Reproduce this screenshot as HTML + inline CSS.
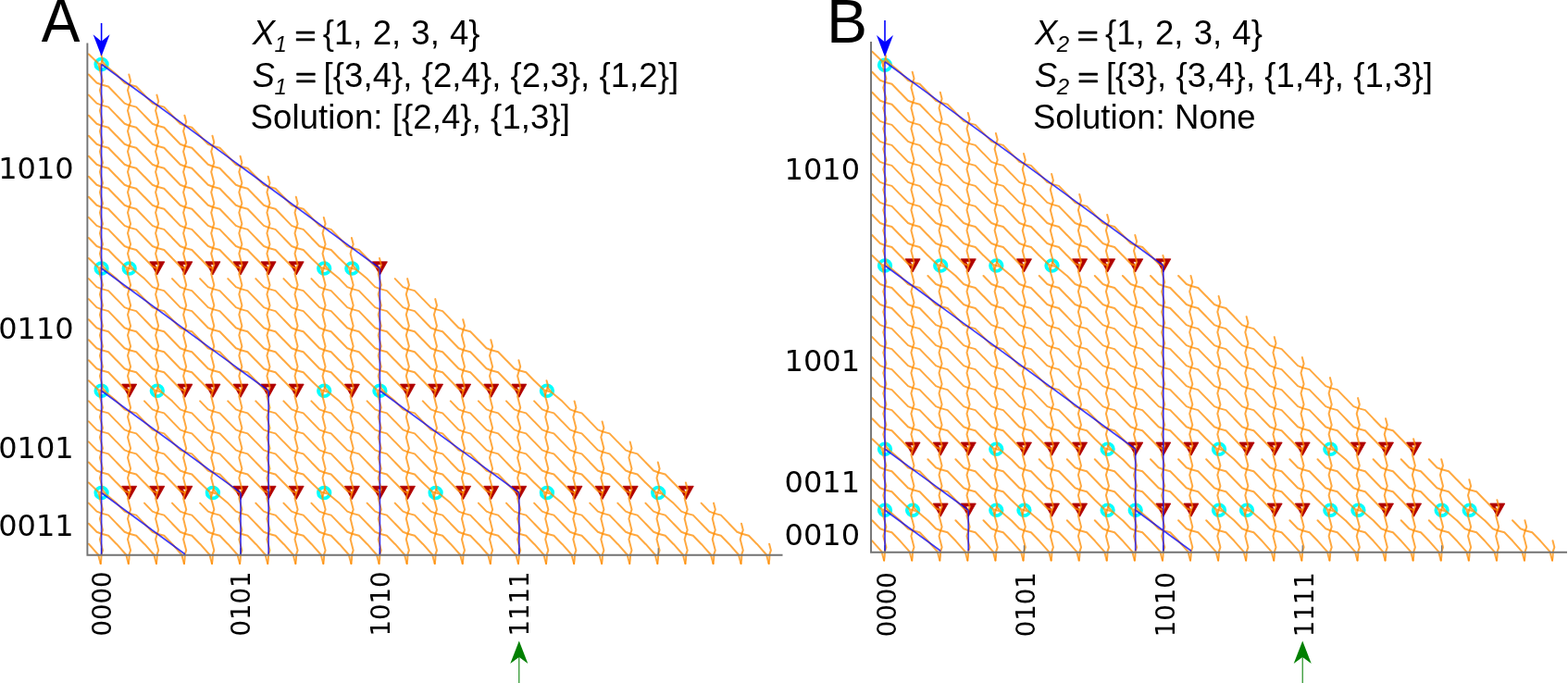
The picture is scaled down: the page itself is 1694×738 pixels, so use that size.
<!DOCTYPE html>
<html><head><meta charset="utf-8"><title>Exact cover networks</title>
<style>html,body{margin:0;padding:0;background:#fff;overflow:hidden}svg{display:block}</style>
</head><body>
<svg width="1694" height="738" viewBox="0 0 1694 738">
<rect width="1694" height="738" fill="#fff"/>
<ellipse cx="109.6" cy="69.5" rx="6.25" ry="5.85" fill="none" stroke="#00ffff" stroke-width="3.8"/>
<ellipse cx="109.6" cy="290" rx="6.25" ry="5.85" fill="none" stroke="#00ffff" stroke-width="3.8"/>
<ellipse cx="139.7" cy="290" rx="6.25" ry="5.85" fill="none" stroke="#00ffff" stroke-width="3.8"/>
<path d="M161.7 282.8 L177.8 282.8 L169.8 297.1ZM169.8 290.6 L172.5 285.7 L167 285.7Z" fill="#b00000" stroke="#b00000" stroke-width="0.8" stroke-linejoin="round"/>
<path d="M191.8 282.8 L207.9 282.8 L199.8 297.1ZM199.8 290.6 L202.6 285.7 L197.1 285.7Z" fill="#b00000" stroke="#b00000" stroke-width="0.8" stroke-linejoin="round"/>
<path d="M221.9 282.8 L238 282.8 L229.9 297.1ZM229.9 290.6 L232.7 285.7 L227.2 285.7Z" fill="#b00000" stroke="#b00000" stroke-width="0.8" stroke-linejoin="round"/>
<path d="M251.9 282.8 L268.1 282.8 L260 297.1ZM260 290.6 L262.7 285.7 L257.3 285.7Z" fill="#b00000" stroke="#b00000" stroke-width="0.8" stroke-linejoin="round"/>
<path d="M282 282.8 L298.1 282.8 L290.1 297.1ZM290.1 290.6 L292.8 285.7 L287.3 285.7Z" fill="#b00000" stroke="#b00000" stroke-width="0.8" stroke-linejoin="round"/>
<path d="M312.1 282.8 L328.2 282.8 L320.2 297.1ZM320.2 290.6 L322.9 285.7 L317.4 285.7Z" fill="#b00000" stroke="#b00000" stroke-width="0.8" stroke-linejoin="round"/>
<ellipse cx="350.2" cy="290" rx="6.25" ry="5.85" fill="none" stroke="#00ffff" stroke-width="3.8"/>
<ellipse cx="380.3" cy="290" rx="6.25" ry="5.85" fill="none" stroke="#00ffff" stroke-width="3.8"/>
<path d="M402.3 282.8 L418.4 282.8 L410.4 297.1ZM410.4 290.6 L413.1 285.7 L407.7 285.7Z" fill="#b00000" stroke="#b00000" stroke-width="0.8" stroke-linejoin="round"/>
<ellipse cx="109.6" cy="422.3" rx="6.25" ry="5.85" fill="none" stroke="#00ffff" stroke-width="3.8"/>
<path d="M131.6 415.1 L147.7 415.1 L139.7 429.4ZM139.7 422.9 L142.4 418 L136.9 418Z" fill="#b00000" stroke="#b00000" stroke-width="0.8" stroke-linejoin="round"/>
<ellipse cx="169.8" cy="422.3" rx="6.25" ry="5.85" fill="none" stroke="#00ffff" stroke-width="3.8"/>
<path d="M191.8 415.1 L207.9 415.1 L199.8 429.4ZM199.8 422.9 L202.6 418 L197.1 418Z" fill="#b00000" stroke="#b00000" stroke-width="0.8" stroke-linejoin="round"/>
<path d="M221.9 415.1 L238 415.1 L229.9 429.4ZM229.9 422.9 L232.7 418 L227.2 418Z" fill="#b00000" stroke="#b00000" stroke-width="0.8" stroke-linejoin="round"/>
<path d="M251.9 415.1 L268.1 415.1 L260 429.4ZM260 422.9 L262.7 418 L257.3 418Z" fill="#b00000" stroke="#b00000" stroke-width="0.8" stroke-linejoin="round"/>
<path d="M282 415.1 L298.1 415.1 L290.1 429.4ZM290.1 422.9 L292.8 418 L287.3 418Z" fill="#b00000" stroke="#b00000" stroke-width="0.8" stroke-linejoin="round"/>
<path d="M312.1 415.1 L328.2 415.1 L320.2 429.4ZM320.2 422.9 L322.9 418 L317.4 418Z" fill="#b00000" stroke="#b00000" stroke-width="0.8" stroke-linejoin="round"/>
<ellipse cx="350.2" cy="422.3" rx="6.25" ry="5.85" fill="none" stroke="#00ffff" stroke-width="3.8"/>
<path d="M372.3 415.1 L388.4 415.1 L380.3 429.4ZM380.3 422.9 L383.1 418 L377.6 418Z" fill="#b00000" stroke="#b00000" stroke-width="0.8" stroke-linejoin="round"/>
<ellipse cx="410.4" cy="422.3" rx="6.25" ry="5.85" fill="none" stroke="#00ffff" stroke-width="3.8"/>
<path d="M432.4 415.1 L448.5 415.1 L440.5 429.4ZM440.5 422.9 L443.2 418 L437.7 418Z" fill="#b00000" stroke="#b00000" stroke-width="0.8" stroke-linejoin="round"/>
<path d="M462.5 415.1 L478.6 415.1 L470.6 429.4ZM470.6 422.9 L473.3 418 L467.8 418Z" fill="#b00000" stroke="#b00000" stroke-width="0.8" stroke-linejoin="round"/>
<path d="M492.6 415.1 L508.7 415.1 L500.6 429.4ZM500.6 422.9 L503.4 418 L497.9 418Z" fill="#b00000" stroke="#b00000" stroke-width="0.8" stroke-linejoin="round"/>
<path d="M522.7 415.1 L538.8 415.1 L530.7 429.4ZM530.7 422.9 L533.5 418 L528 418Z" fill="#b00000" stroke="#b00000" stroke-width="0.8" stroke-linejoin="round"/>
<path d="M552.8 415.1 L568.8 415.1 L560.8 429.4ZM560.8 422.9 L563.5 418 L558.1 418Z" fill="#b00000" stroke="#b00000" stroke-width="0.8" stroke-linejoin="round"/>
<ellipse cx="590.9" cy="422.3" rx="6.25" ry="5.85" fill="none" stroke="#00ffff" stroke-width="3.8"/>
<ellipse cx="109.6" cy="532.5" rx="6.25" ry="5.85" fill="none" stroke="#00ffff" stroke-width="3.8"/>
<path d="M131.6 525.3 L147.7 525.3 L139.7 539.6ZM139.7 533.1 L142.4 528.3 L136.9 528.3Z" fill="#b00000" stroke="#b00000" stroke-width="0.8" stroke-linejoin="round"/>
<path d="M161.7 525.3 L177.8 525.3 L169.8 539.6ZM169.8 533.1 L172.5 528.3 L167 528.3Z" fill="#b00000" stroke="#b00000" stroke-width="0.8" stroke-linejoin="round"/>
<path d="M191.8 525.3 L207.9 525.3 L199.8 539.6ZM199.8 533.1 L202.6 528.3 L197.1 528.3Z" fill="#b00000" stroke="#b00000" stroke-width="0.8" stroke-linejoin="round"/>
<ellipse cx="229.9" cy="532.5" rx="6.25" ry="5.85" fill="none" stroke="#00ffff" stroke-width="3.8"/>
<path d="M251.9 525.3 L268.1 525.3 L260 539.6ZM260 533.1 L262.7 528.3 L257.3 528.3Z" fill="#b00000" stroke="#b00000" stroke-width="0.8" stroke-linejoin="round"/>
<path d="M282 525.3 L298.1 525.3 L290.1 539.6ZM290.1 533.1 L292.8 528.3 L287.3 528.3Z" fill="#b00000" stroke="#b00000" stroke-width="0.8" stroke-linejoin="round"/>
<path d="M312.1 525.3 L328.2 525.3 L320.2 539.6ZM320.2 533.1 L322.9 528.3 L317.4 528.3Z" fill="#b00000" stroke="#b00000" stroke-width="0.8" stroke-linejoin="round"/>
<ellipse cx="350.2" cy="532.5" rx="6.25" ry="5.85" fill="none" stroke="#00ffff" stroke-width="3.8"/>
<path d="M372.3 525.3 L388.4 525.3 L380.3 539.6ZM380.3 533.1 L383.1 528.3 L377.6 528.3Z" fill="#b00000" stroke="#b00000" stroke-width="0.8" stroke-linejoin="round"/>
<path d="M402.3 525.3 L418.4 525.3 L410.4 539.6ZM410.4 533.1 L413.1 528.3 L407.7 528.3Z" fill="#b00000" stroke="#b00000" stroke-width="0.8" stroke-linejoin="round"/>
<path d="M432.4 525.3 L448.5 525.3 L440.5 539.6ZM440.5 533.1 L443.2 528.3 L437.7 528.3Z" fill="#b00000" stroke="#b00000" stroke-width="0.8" stroke-linejoin="round"/>
<ellipse cx="470.6" cy="532.5" rx="6.25" ry="5.85" fill="none" stroke="#00ffff" stroke-width="3.8"/>
<path d="M492.6 525.3 L508.7 525.3 L500.6 539.6ZM500.6 533.1 L503.4 528.3 L497.9 528.3Z" fill="#b00000" stroke="#b00000" stroke-width="0.8" stroke-linejoin="round"/>
<path d="M522.7 525.3 L538.8 525.3 L530.7 539.6ZM530.7 533.1 L533.5 528.3 L528 528.3Z" fill="#b00000" stroke="#b00000" stroke-width="0.8" stroke-linejoin="round"/>
<path d="M552.8 525.3 L568.8 525.3 L560.8 539.6ZM560.8 533.1 L563.5 528.3 L558.1 528.3Z" fill="#b00000" stroke="#b00000" stroke-width="0.8" stroke-linejoin="round"/>
<ellipse cx="590.9" cy="532.5" rx="6.25" ry="5.85" fill="none" stroke="#00ffff" stroke-width="3.8"/>
<path d="M612.9 525.3 L629 525.3 L621 539.6ZM621 533.1 L623.7 528.3 L618.2 528.3Z" fill="#b00000" stroke="#b00000" stroke-width="0.8" stroke-linejoin="round"/>
<path d="M643 525.3 L659.1 525.3 L651 539.6ZM651 533.1 L653.8 528.3 L648.3 528.3Z" fill="#b00000" stroke="#b00000" stroke-width="0.8" stroke-linejoin="round"/>
<path d="M673.1 525.3 L689.2 525.3 L681.1 539.6ZM681.1 533.1 L683.9 528.3 L678.4 528.3Z" fill="#b00000" stroke="#b00000" stroke-width="0.8" stroke-linejoin="round"/>
<ellipse cx="711.2" cy="532.5" rx="6.25" ry="5.85" fill="none" stroke="#00ffff" stroke-width="3.8"/>
<path d="M733.2 525.3 L749.3 525.3 L741.3 539.6ZM741.3 533.1 L744 528.3 L738.5 528.3Z" fill="#b00000" stroke="#b00000" stroke-width="0.8" stroke-linejoin="round"/>
<path d="M109.2 58.5 110.8 64 110.2 65.9 107.8 74 108 76.5 109.2 80.5 M109.2 80.5 111 87.5 109.6 91.5 M109.6 91.5 107.9 97.5 109.2 102.5 M139.3 80.5 141.1 87.5 139.7 91.5 M139.7 91.5 138 97.5 139.3 102.5 M109.2 102.6 111 109.6 109.6 113.6 M109.6 113.6 107.9 119.6 109.2 124.6 M139.3 102.6 141.1 109.6 139.7 113.6 M139.7 113.6 138 119.6 139.3 124.6 M169.4 102.6 171.2 109.6 169.8 113.6 M169.8 113.6 168.1 119.6 169.4 124.6 M109.2 124.7 111 131.7 109.6 135.7 M109.6 135.7 107.9 141.7 109.2 146.7 M139.3 124.7 141.1 131.7 139.7 135.7 M139.7 135.7 138 141.7 139.3 146.7 M169.4 124.7 171.2 131.7 169.8 135.7 M169.8 135.7 168.1 141.7 169.4 146.7 M199.4 124.7 201.2 131.7 199.8 135.7 M199.8 135.7 198.1 141.7 199.4 146.7 M109.2 146.7 111 153.7 109.6 157.7 M109.6 157.7 107.9 163.7 109.2 168.7 M139.3 146.7 141.1 153.7 139.7 157.7 M139.7 157.7 138 163.7 139.3 168.7 M169.4 146.7 171.2 153.7 169.8 157.7 M169.8 157.7 168.1 163.7 169.4 168.7 M199.4 146.7 201.2 153.7 199.8 157.7 M199.8 157.7 198.1 163.7 199.4 168.7 M229.5 146.7 231.3 153.7 229.9 157.7 M229.9 157.7 228.2 163.7 229.5 168.7 M109.2 168.8 111 175.8 109.6 179.8 M109.6 179.8 107.9 185.8 109.2 190.8 M139.3 168.8 141.1 175.8 139.7 179.8 M139.7 179.8 138 185.8 139.3 190.8 M169.4 168.8 171.2 175.8 169.8 179.8 M169.8 179.8 168.1 185.8 169.4 190.8 M199.4 168.8 201.2 175.8 199.8 179.8 M199.8 179.8 198.1 185.8 199.4 190.8 M229.5 168.8 231.3 175.8 229.9 179.8 M229.9 179.8 228.2 185.8 229.5 190.8 M259.6 168.8 261.4 175.8 260 179.8 M260 179.8 258.3 185.8 259.6 190.8 M109.2 190.8 111 197.8 109.6 201.8 M109.6 201.8 107.9 207.8 109.2 212.8 M139.3 190.8 141.1 197.8 139.7 201.8 M139.7 201.8 138 207.8 139.3 212.8 M169.4 190.8 171.2 197.8 169.8 201.8 M169.8 201.8 168.1 207.8 169.4 212.8 M199.4 190.8 201.2 197.8 199.8 201.8 M199.8 201.8 198.1 207.8 199.4 212.8 M229.5 190.8 231.3 197.8 229.9 201.8 M229.9 201.8 228.2 207.8 229.5 212.8 M259.6 190.8 261.4 197.8 260 201.8 M260 201.8 258.3 207.8 259.6 212.8 M289.7 190.8 291.5 197.8 290.1 201.8 M290.1 201.8 288.4 207.8 289.7 212.8 M109.2 212.8 111 219.8 109.6 223.8 M109.6 223.8 107.9 229.8 109.2 234.8 M139.3 212.8 141.1 219.8 139.7 223.8 M139.7 223.8 138 229.8 139.3 234.8 M169.4 212.8 171.2 219.8 169.8 223.8 M169.8 223.8 168.1 229.8 169.4 234.8 M199.4 212.8 201.2 219.8 199.8 223.8 M199.8 223.8 198.1 229.8 199.4 234.8 M229.5 212.8 231.3 219.8 229.9 223.8 M229.9 223.8 228.2 229.8 229.5 234.8 M259.6 212.8 261.4 219.8 260 223.8 M260 223.8 258.3 229.8 259.6 234.8 M289.7 212.8 291.5 219.8 290.1 223.8 M290.1 223.8 288.4 229.8 289.7 234.8 M319.8 212.8 321.6 219.8 320.2 223.8 M320.2 223.8 318.5 229.8 319.8 234.8 M109.2 234.9 111 241.9 109.6 245.9 M109.6 245.9 107.9 251.9 109.2 256.9 M139.3 234.9 141.1 241.9 139.7 245.9 M139.7 245.9 138 251.9 139.3 256.9 M169.4 234.9 171.2 241.9 169.8 245.9 M169.8 245.9 168.1 251.9 169.4 256.9 M199.4 234.9 201.2 241.9 199.8 245.9 M199.8 245.9 198.1 251.9 199.4 256.9 M229.5 234.9 231.3 241.9 229.9 245.9 M229.9 245.9 228.2 251.9 229.5 256.9 M259.6 234.9 261.4 241.9 260 245.9 M260 245.9 258.3 251.9 259.6 256.9 M289.7 234.9 291.5 241.9 290.1 245.9 M290.1 245.9 288.4 251.9 289.7 256.9 M319.8 234.9 321.6 241.9 320.2 245.9 M320.2 245.9 318.5 251.9 319.8 256.9 M349.8 234.9 351.6 241.9 350.2 245.9 M350.2 245.9 348.5 251.9 349.8 256.9 M109.2 257 111 264 109.6 268 M109.6 268 107.9 274 109.2 279 M139.3 257 141.1 264 139.7 268 M139.7 268 138 274 139.3 279 M169.4 257 171.2 264 169.8 268 M169.8 268 168.1 274 169.4 279 M199.4 257 201.2 264 199.8 268 M199.8 268 198.1 274 199.4 279 M229.5 257 231.3 264 229.9 268 M229.9 268 228.2 274 229.5 279 M259.6 257 261.4 264 260 268 M260 268 258.3 274 259.6 279 M289.7 257 291.5 264 290.1 268 M290.1 268 288.4 274 289.7 279 M319.8 257 321.6 264 320.2 268 M320.2 268 318.5 274 319.8 279 M349.8 257 351.6 264 350.2 268 M350.2 268 348.5 274 349.8 279 M379.9 257 381.7 264 380.3 268 M380.3 268 378.6 274 379.9 279 M109.2 279 110.8 284.5 110.2 286.4 107.8 294.5 108 297 109.2 301 M139.3 279 140.9 284.5 140.3 286.4 137.9 294.5 138.1 297 139.3 301 M169.4 279 171.2 286 169.8 290 M169.8 290 168.1 296 169.4 301 M199.4 279 201.2 286 199.8 290 M199.8 290 198.1 296 199.4 301 M229.5 279 231.3 286 229.9 290 M229.9 290 228.2 296 229.5 301 M259.6 279 261.4 286 260 290 M260 290 258.3 296 259.6 301 M289.7 279 291.5 286 290.1 290 M290.1 290 288.4 296 289.7 301 M319.8 279 321.6 286 320.2 290 M320.2 290 318.5 296 319.8 301 M349.8 279 351.4 284.5 350.8 286.4 348.4 294.5 348.6 297 349.8 301 M379.9 279 381.5 284.5 380.9 286.4 378.5 294.5 378.7 297 379.9 301 M410 279 411.8 286 410.4 290 M410.4 290 408.7 296 410 301 M109.2 301.1 111 308.1 109.6 312.1 M109.6 312.1 107.9 318.1 109.2 323.1 M139.3 301.1 141.1 308.1 139.7 312.1 M139.7 312.1 138 318.1 139.3 323.1 M169.4 301.1 171.2 308.1 169.8 312.1 M169.8 312.1 168.1 318.1 169.4 323.1 M199.4 301.1 201.2 308.1 199.8 312.1 M199.8 312.1 198.1 318.1 199.4 323.1 M229.5 301.1 231.3 308.1 229.9 312.1 M229.9 312.1 228.2 318.1 229.5 323.1 M259.6 301.1 261.4 308.1 260 312.1 M260 312.1 258.3 318.1 259.6 323.1 M289.7 301.1 291.5 308.1 290.1 312.1 M290.1 312.1 288.4 318.1 289.7 323.1 M319.8 301.1 321.6 308.1 320.2 312.1 M320.2 312.1 318.5 318.1 319.8 323.1 M349.8 301.1 351.6 308.1 350.2 312.1 M350.2 312.1 348.5 318.1 349.8 323.1 M379.9 301.1 381.7 308.1 380.3 312.1 M380.3 312.1 378.6 318.1 379.9 323.1 M410 301.1 411.8 308.1 410.4 312.1 M410.4 312.1 408.7 318.1 410 323.1 M440.1 301.1 441.9 308.1 440.5 312.1 M440.5 312.1 438.8 318.1 440.1 323.1 M109.2 323.1 111 330.1 109.6 334.1 M109.6 334.1 107.9 340.1 109.2 345.1 M139.3 323.1 141.1 330.1 139.7 334.1 M139.7 334.1 138 340.1 139.3 345.1 M169.4 323.1 171.2 330.1 169.8 334.1 M169.8 334.1 168.1 340.1 169.4 345.1 M199.4 323.1 201.2 330.1 199.8 334.1 M199.8 334.1 198.1 340.1 199.4 345.1 M229.5 323.1 231.3 330.1 229.9 334.1 M229.9 334.1 228.2 340.1 229.5 345.1 M259.6 323.1 261.4 330.1 260 334.1 M260 334.1 258.3 340.1 259.6 345.1 M289.7 323.1 291.5 330.1 290.1 334.1 M290.1 334.1 288.4 340.1 289.7 345.1 M319.8 323.1 321.6 330.1 320.2 334.1 M320.2 334.1 318.5 340.1 319.8 345.1 M349.8 323.1 351.6 330.1 350.2 334.1 M350.2 334.1 348.5 340.1 349.8 345.1 M379.9 323.1 381.7 330.1 380.3 334.1 M380.3 334.1 378.6 340.1 379.9 345.1 M410 323.1 411.8 330.1 410.4 334.1 M410.4 334.1 408.7 340.1 410 345.1 M440.1 323.1 441.9 330.1 440.5 334.1 M440.5 334.1 438.8 340.1 440.1 345.1 M470.2 323.1 472 330.1 470.6 334.1 M470.6 334.1 468.9 340.1 470.2 345.1 M109.2 345.2 111 352.2 109.6 356.2 M109.6 356.2 107.9 362.2 109.2 367.2 M139.3 345.2 141.1 352.2 139.7 356.2 M139.7 356.2 138 362.2 139.3 367.2 M169.4 345.2 171.2 352.2 169.8 356.2 M169.8 356.2 168.1 362.2 169.4 367.2 M199.4 345.2 201.2 352.2 199.8 356.2 M199.8 356.2 198.1 362.2 199.4 367.2 M229.5 345.2 231.3 352.2 229.9 356.2 M229.9 356.2 228.2 362.2 229.5 367.2 M259.6 345.2 261.4 352.2 260 356.2 M260 356.2 258.3 362.2 259.6 367.2 M289.7 345.2 291.5 352.2 290.1 356.2 M290.1 356.2 288.4 362.2 289.7 367.2 M319.8 345.2 321.6 352.2 320.2 356.2 M320.2 356.2 318.5 362.2 319.8 367.2 M349.8 345.2 351.6 352.2 350.2 356.2 M350.2 356.2 348.5 362.2 349.8 367.2 M379.9 345.2 381.7 352.2 380.3 356.2 M380.3 356.2 378.6 362.2 379.9 367.2 M410 345.2 411.8 352.2 410.4 356.2 M410.4 356.2 408.7 362.2 410 367.2 M440.1 345.2 441.9 352.2 440.5 356.2 M440.5 356.2 438.8 362.2 440.1 367.2 M470.2 345.2 472 352.2 470.6 356.2 M470.6 356.2 468.9 362.2 470.2 367.2 M500.2 345.2 502 352.2 500.6 356.2 M500.6 356.2 498.9 362.2 500.2 367.2 M109.2 367.2 111 374.2 109.6 378.2 M109.6 378.2 107.9 384.2 109.2 389.2 M139.3 367.2 141.1 374.2 139.7 378.2 M139.7 378.2 138 384.2 139.3 389.2 M169.4 367.2 171.2 374.2 169.8 378.2 M169.8 378.2 168.1 384.2 169.4 389.2 M199.4 367.2 201.2 374.2 199.8 378.2 M199.8 378.2 198.1 384.2 199.4 389.2 M229.5 367.2 231.3 374.2 229.9 378.2 M229.9 378.2 228.2 384.2 229.5 389.2 M259.6 367.2 261.4 374.2 260 378.2 M260 378.2 258.3 384.2 259.6 389.2 M289.7 367.2 291.5 374.2 290.1 378.2 M290.1 378.2 288.4 384.2 289.7 389.2 M319.8 367.2 321.6 374.2 320.2 378.2 M320.2 378.2 318.5 384.2 319.8 389.2 M349.8 367.2 351.6 374.2 350.2 378.2 M350.2 378.2 348.5 384.2 349.8 389.2 M379.9 367.2 381.7 374.2 380.3 378.2 M380.3 378.2 378.6 384.2 379.9 389.2 M410 367.2 411.8 374.2 410.4 378.2 M410.4 378.2 408.7 384.2 410 389.2 M440.1 367.2 441.9 374.2 440.5 378.2 M440.5 378.2 438.8 384.2 440.1 389.2 M470.2 367.2 472 374.2 470.6 378.2 M470.6 378.2 468.9 384.2 470.2 389.2 M500.2 367.2 502 374.2 500.6 378.2 M500.6 378.2 498.9 384.2 500.2 389.2 M530.3 367.2 532.1 374.2 530.7 378.2 M530.7 378.2 529 384.2 530.3 389.2 M109.2 389.2 111 396.2 109.6 400.2 M109.6 400.2 107.9 406.2 109.2 411.2 M139.3 389.2 141.1 396.2 139.7 400.2 M139.7 400.2 138 406.2 139.3 411.2 M169.4 389.2 171.2 396.2 169.8 400.2 M169.8 400.2 168.1 406.2 169.4 411.2 M199.4 389.2 201.2 396.2 199.8 400.2 M199.8 400.2 198.1 406.2 199.4 411.2 M229.5 389.2 231.3 396.2 229.9 400.2 M229.9 400.2 228.2 406.2 229.5 411.2 M259.6 389.2 261.4 396.2 260 400.2 M260 400.2 258.3 406.2 259.6 411.2 M289.7 389.2 291.5 396.2 290.1 400.2 M290.1 400.2 288.4 406.2 289.7 411.2 M319.8 389.2 321.6 396.2 320.2 400.2 M320.2 400.2 318.5 406.2 319.8 411.2 M349.8 389.2 351.6 396.2 350.2 400.2 M350.2 400.2 348.5 406.2 349.8 411.2 M379.9 389.2 381.7 396.2 380.3 400.2 M380.3 400.2 378.6 406.2 379.9 411.2 M410 389.2 411.8 396.2 410.4 400.2 M410.4 400.2 408.7 406.2 410 411.2 M440.1 389.2 441.9 396.2 440.5 400.2 M440.5 400.2 438.8 406.2 440.1 411.2 M470.2 389.2 472 396.2 470.6 400.2 M470.6 400.2 468.9 406.2 470.2 411.2 M500.2 389.2 502 396.2 500.6 400.2 M500.6 400.2 498.9 406.2 500.2 411.2 M530.3 389.2 532.1 396.2 530.7 400.2 M530.7 400.2 529 406.2 530.3 411.2 M560.4 389.2 562.2 396.2 560.8 400.2 M560.8 400.2 559.1 406.2 560.4 411.2 M109.2 411.3 110.8 416.8 110.2 418.7 107.8 426.8 108 429.3 109.2 433.3 M139.3 411.3 141.1 418.3 139.7 422.3 M139.7 422.3 138 428.3 139.3 433.3 M169.4 411.3 171 416.8 170.4 418.7 168 426.8 168.2 429.3 169.4 433.3 M199.4 411.3 201.2 418.3 199.8 422.3 M199.8 422.3 198.1 428.3 199.4 433.3 M229.5 411.3 231.3 418.3 229.9 422.3 M229.9 422.3 228.2 428.3 229.5 433.3 M259.6 411.3 261.4 418.3 260 422.3 M260 422.3 258.3 428.3 259.6 433.3 M289.7 411.3 291.5 418.3 290.1 422.3 M290.1 422.3 288.4 428.3 289.7 433.3 M319.8 411.3 321.6 418.3 320.2 422.3 M320.2 422.3 318.5 428.3 319.8 433.3 M349.8 411.3 351.4 416.8 350.8 418.7 348.4 426.8 348.6 429.3 349.8 433.3 M379.9 411.3 381.7 418.3 380.3 422.3 M380.3 422.3 378.6 428.3 379.9 433.3 M410 411.3 411.6 416.8 411 418.7 408.6 426.8 408.8 429.3 410 433.3 M440.1 411.3 441.9 418.3 440.5 422.3 M440.5 422.3 438.8 428.3 440.1 433.3 M470.2 411.3 472 418.3 470.6 422.3 M470.6 422.3 468.9 428.3 470.2 433.3 M500.2 411.3 502 418.3 500.6 422.3 M500.6 422.3 498.9 428.3 500.2 433.3 M530.3 411.3 532.1 418.3 530.7 422.3 M530.7 422.3 529 428.3 530.3 433.3 M560.4 411.3 562.2 418.3 560.8 422.3 M560.8 422.3 559.1 428.3 560.4 433.3 M590.5 411.3 592.1 416.8 591.5 418.7 589.1 426.8 589.3 429.3 590.5 433.3 M109.2 433.4 111 440.4 109.6 444.4 M109.6 444.4 107.9 450.4 109.2 455.4 M139.3 433.4 141.1 440.4 139.7 444.4 M139.7 444.4 138 450.4 139.3 455.4 M169.4 433.4 171.2 440.4 169.8 444.4 M169.8 444.4 168.1 450.4 169.4 455.4 M199.4 433.4 201.2 440.4 199.8 444.4 M199.8 444.4 198.1 450.4 199.4 455.4 M229.5 433.4 231.3 440.4 229.9 444.4 M229.9 444.4 228.2 450.4 229.5 455.4 M259.6 433.4 261.4 440.4 260 444.4 M260 444.4 258.3 450.4 259.6 455.4 M289.7 433.4 291.5 440.4 290.1 444.4 M290.1 444.4 288.4 450.4 289.7 455.4 M319.8 433.4 321.6 440.4 320.2 444.4 M320.2 444.4 318.5 450.4 319.8 455.4 M349.8 433.4 351.6 440.4 350.2 444.4 M350.2 444.4 348.5 450.4 349.8 455.4 M379.9 433.4 381.7 440.4 380.3 444.4 M380.3 444.4 378.6 450.4 379.9 455.4 M410 433.4 411.8 440.4 410.4 444.4 M410.4 444.4 408.7 450.4 410 455.4 M440.1 433.4 441.9 440.4 440.5 444.4 M440.5 444.4 438.8 450.4 440.1 455.4 M470.2 433.4 472 440.4 470.6 444.4 M470.6 444.4 468.9 450.4 470.2 455.4 M500.2 433.4 502 440.4 500.6 444.4 M500.6 444.4 498.9 450.4 500.2 455.4 M530.3 433.4 532.1 440.4 530.7 444.4 M530.7 444.4 529 450.4 530.3 455.4 M560.4 433.4 562.2 440.4 560.8 444.4 M560.8 444.4 559.1 450.4 560.4 455.4 M590.5 433.4 592.3 440.4 590.9 444.4 M590.9 444.4 589.2 450.4 590.5 455.4 M620.6 433.4 622.4 440.4 621 444.4 M621 444.4 619.3 450.4 620.6 455.4 M109.2 455.4 111 462.4 109.6 466.4 M109.6 466.4 107.9 472.4 109.2 477.4 M139.3 455.4 141.1 462.4 139.7 466.4 M139.7 466.4 138 472.4 139.3 477.4 M169.4 455.4 171.2 462.4 169.8 466.4 M169.8 466.4 168.1 472.4 169.4 477.4 M199.4 455.4 201.2 462.4 199.8 466.4 M199.8 466.4 198.1 472.4 199.4 477.4 M229.5 455.4 231.3 462.4 229.9 466.4 M229.9 466.4 228.2 472.4 229.5 477.4 M259.6 455.4 261.4 462.4 260 466.4 M260 466.4 258.3 472.4 259.6 477.4 M289.7 455.4 291.5 462.4 290.1 466.4 M290.1 466.4 288.4 472.4 289.7 477.4 M319.8 455.4 321.6 462.4 320.2 466.4 M320.2 466.4 318.5 472.4 319.8 477.4 M349.8 455.4 351.6 462.4 350.2 466.4 M350.2 466.4 348.5 472.4 349.8 477.4 M379.9 455.4 381.7 462.4 380.3 466.4 M380.3 466.4 378.6 472.4 379.9 477.4 M410 455.4 411.8 462.4 410.4 466.4 M410.4 466.4 408.7 472.4 410 477.4 M440.1 455.4 441.9 462.4 440.5 466.4 M440.5 466.4 438.8 472.4 440.1 477.4 M470.2 455.4 472 462.4 470.6 466.4 M470.6 466.4 468.9 472.4 470.2 477.4 M500.2 455.4 502 462.4 500.6 466.4 M500.6 466.4 498.9 472.4 500.2 477.4 M530.3 455.4 532.1 462.4 530.7 466.4 M530.7 466.4 529 472.4 530.3 477.4 M560.4 455.4 562.2 462.4 560.8 466.4 M560.8 466.4 559.1 472.4 560.4 477.4 M590.5 455.4 592.3 462.4 590.9 466.4 M590.9 466.4 589.2 472.4 590.5 477.4 M620.6 455.4 622.4 462.4 621 466.4 M621 466.4 619.3 472.4 620.6 477.4 M650.6 455.4 652.4 462.4 651 466.4 M651 466.4 649.3 472.4 650.6 477.4 M109.2 477.4 111 484.4 109.6 488.4 M109.6 488.4 107.9 494.4 109.2 499.4 M139.3 477.4 141.1 484.4 139.7 488.4 M139.7 488.4 138 494.4 139.3 499.4 M169.4 477.4 171.2 484.4 169.8 488.4 M169.8 488.4 168.1 494.4 169.4 499.4 M199.4 477.4 201.2 484.4 199.8 488.4 M199.8 488.4 198.1 494.4 199.4 499.4 M229.5 477.4 231.3 484.4 229.9 488.4 M229.9 488.4 228.2 494.4 229.5 499.4 M259.6 477.4 261.4 484.4 260 488.4 M260 488.4 258.3 494.4 259.6 499.4 M289.7 477.4 291.5 484.4 290.1 488.4 M290.1 488.4 288.4 494.4 289.7 499.4 M319.8 477.4 321.6 484.4 320.2 488.4 M320.2 488.4 318.5 494.4 319.8 499.4 M349.8 477.4 351.6 484.4 350.2 488.4 M350.2 488.4 348.5 494.4 349.8 499.4 M379.9 477.4 381.7 484.4 380.3 488.4 M380.3 488.4 378.6 494.4 379.9 499.4 M410 477.4 411.8 484.4 410.4 488.4 M410.4 488.4 408.7 494.4 410 499.4 M440.1 477.4 441.9 484.4 440.5 488.4 M440.5 488.4 438.8 494.4 440.1 499.4 M470.2 477.4 472 484.4 470.6 488.4 M470.6 488.4 468.9 494.4 470.2 499.4 M500.2 477.4 502 484.4 500.6 488.4 M500.6 488.4 498.9 494.4 500.2 499.4 M530.3 477.4 532.1 484.4 530.7 488.4 M530.7 488.4 529 494.4 530.3 499.4 M560.4 477.4 562.2 484.4 560.8 488.4 M560.8 488.4 559.1 494.4 560.4 499.4 M590.5 477.4 592.3 484.4 590.9 488.4 M590.9 488.4 589.2 494.4 590.5 499.4 M620.6 477.4 622.4 484.4 621 488.4 M621 488.4 619.3 494.4 620.6 499.4 M650.6 477.4 652.4 484.4 651 488.4 M651 488.4 649.3 494.4 650.6 499.4 M680.7 477.4 682.5 484.4 681.1 488.4 M681.1 488.4 679.4 494.4 680.7 499.4 M109.2 499.5 111 506.5 109.6 510.5 M109.6 510.5 107.9 516.5 109.2 521.5 M139.3 499.5 141.1 506.5 139.7 510.5 M139.7 510.5 138 516.5 139.3 521.5 M169.4 499.5 171.2 506.5 169.8 510.5 M169.8 510.5 168.1 516.5 169.4 521.5 M199.4 499.5 201.2 506.5 199.8 510.5 M199.8 510.5 198.1 516.5 199.4 521.5 M229.5 499.5 231.3 506.5 229.9 510.5 M229.9 510.5 228.2 516.5 229.5 521.5 M259.6 499.5 261.4 506.5 260 510.5 M260 510.5 258.3 516.5 259.6 521.5 M289.7 499.5 291.5 506.5 290.1 510.5 M290.1 510.5 288.4 516.5 289.7 521.5 M319.8 499.5 321.6 506.5 320.2 510.5 M320.2 510.5 318.5 516.5 319.8 521.5 M349.8 499.5 351.6 506.5 350.2 510.5 M350.2 510.5 348.5 516.5 349.8 521.5 M379.9 499.5 381.7 506.5 380.3 510.5 M380.3 510.5 378.6 516.5 379.9 521.5 M410 499.5 411.8 506.5 410.4 510.5 M410.4 510.5 408.7 516.5 410 521.5 M440.1 499.5 441.9 506.5 440.5 510.5 M440.5 510.5 438.8 516.5 440.1 521.5 M470.2 499.5 472 506.5 470.6 510.5 M470.6 510.5 468.9 516.5 470.2 521.5 M500.2 499.5 502 506.5 500.6 510.5 M500.6 510.5 498.9 516.5 500.2 521.5 M530.3 499.5 532.1 506.5 530.7 510.5 M530.7 510.5 529 516.5 530.3 521.5 M560.4 499.5 562.2 506.5 560.8 510.5 M560.8 510.5 559.1 516.5 560.4 521.5 M590.5 499.5 592.3 506.5 590.9 510.5 M590.9 510.5 589.2 516.5 590.5 521.5 M620.6 499.5 622.4 506.5 621 510.5 M621 510.5 619.3 516.5 620.6 521.5 M650.6 499.5 652.4 506.5 651 510.5 M651 510.5 649.3 516.5 650.6 521.5 M680.7 499.5 682.5 506.5 681.1 510.5 M681.1 510.5 679.4 516.5 680.7 521.5 M710.8 499.5 712.6 506.5 711.2 510.5 M711.2 510.5 709.5 516.5 710.8 521.5 M109.2 521.5 110.8 527 110.2 528.9 107.8 537 108 539.5 109.2 543.5 M139.3 521.5 141.1 528.5 139.7 532.5 M139.7 532.5 138 538.5 139.3 543.5 M169.4 521.5 171.2 528.5 169.8 532.5 M169.8 532.5 168.1 538.5 169.4 543.5 M199.4 521.5 201.2 528.5 199.8 532.5 M199.8 532.5 198.1 538.5 199.4 543.5 M229.5 521.5 231.1 527 230.5 528.9 228.1 537 228.3 539.5 229.5 543.5 M259.6 521.5 261.4 528.5 260 532.5 M260 532.5 258.3 538.5 259.6 543.5 M289.7 521.5 291.5 528.5 290.1 532.5 M290.1 532.5 288.4 538.5 289.7 543.5 M319.8 521.5 321.6 528.5 320.2 532.5 M320.2 532.5 318.5 538.5 319.8 543.5 M349.8 521.5 351.4 527 350.8 528.9 348.4 537 348.6 539.5 349.8 543.5 M379.9 521.5 381.7 528.5 380.3 532.5 M380.3 532.5 378.6 538.5 379.9 543.5 M410 521.5 411.8 528.5 410.4 532.5 M410.4 532.5 408.7 538.5 410 543.5 M440.1 521.5 441.9 528.5 440.5 532.5 M440.5 532.5 438.8 538.5 440.1 543.5 M470.2 521.5 471.8 527 471.2 528.9 468.8 537 469 539.5 470.2 543.5 M500.2 521.5 502 528.5 500.6 532.5 M500.6 532.5 498.9 538.5 500.2 543.5 M530.3 521.5 532.1 528.5 530.7 532.5 M530.7 532.5 529 538.5 530.3 543.5 M560.4 521.5 562.2 528.5 560.8 532.5 M560.8 532.5 559.1 538.5 560.4 543.5 M590.5 521.5 592.1 527 591.5 528.9 589.1 537 589.3 539.5 590.5 543.5 M620.6 521.5 622.4 528.5 621 532.5 M621 532.5 619.3 538.5 620.6 543.5 M650.6 521.5 652.4 528.5 651 532.5 M651 532.5 649.3 538.5 650.6 543.5 M680.7 521.5 682.5 528.5 681.1 532.5 M681.1 532.5 679.4 538.5 680.7 543.5 M710.8 521.5 712.4 527 711.8 528.9 709.4 537 709.6 539.5 710.8 543.5 M740.9 521.5 742.7 528.5 741.3 532.5 M741.3 532.5 739.6 538.5 740.9 543.5 M109.2 543.6 111 550.6 109.6 554.6 M109.6 554.6 107.9 560.6 109.2 565.6 M139.3 543.6 141.1 550.6 139.7 554.6 M139.7 554.6 138 560.6 139.3 565.6 M169.4 543.6 171.2 550.6 169.8 554.6 M169.8 554.6 168.1 560.6 169.4 565.6 M199.4 543.6 201.2 550.6 199.8 554.6 M199.8 554.6 198.1 560.6 199.4 565.6 M229.5 543.6 231.3 550.6 229.9 554.6 M229.9 554.6 228.2 560.6 229.5 565.6 M259.6 543.6 261.4 550.6 260 554.6 M260 554.6 258.3 560.6 259.6 565.6 M289.7 543.6 291.5 550.6 290.1 554.6 M290.1 554.6 288.4 560.6 289.7 565.6 M319.8 543.6 321.6 550.6 320.2 554.6 M320.2 554.6 318.5 560.6 319.8 565.6 M349.8 543.6 351.6 550.6 350.2 554.6 M350.2 554.6 348.5 560.6 349.8 565.6 M379.9 543.6 381.7 550.6 380.3 554.6 M380.3 554.6 378.6 560.6 379.9 565.6 M410 543.6 411.8 550.6 410.4 554.6 M410.4 554.6 408.7 560.6 410 565.6 M440.1 543.6 441.9 550.6 440.5 554.6 M440.5 554.6 438.8 560.6 440.1 565.6 M470.2 543.6 472 550.6 470.6 554.6 M470.6 554.6 468.9 560.6 470.2 565.6 M500.2 543.6 502 550.6 500.6 554.6 M500.6 554.6 498.9 560.6 500.2 565.6 M530.3 543.6 532.1 550.6 530.7 554.6 M530.7 554.6 529 560.6 530.3 565.6 M560.4 543.6 562.2 550.6 560.8 554.6 M560.8 554.6 559.1 560.6 560.4 565.6 M590.5 543.6 592.3 550.6 590.9 554.6 M590.9 554.6 589.2 560.6 590.5 565.6 M620.6 543.6 622.4 550.6 621 554.6 M621 554.6 619.3 560.6 620.6 565.6 M650.6 543.6 652.4 550.6 651 554.6 M651 554.6 649.3 560.6 650.6 565.6 M680.7 543.6 682.5 550.6 681.1 554.6 M681.1 554.6 679.4 560.6 680.7 565.6 M710.8 543.6 712.6 550.6 711.2 554.6 M711.2 554.6 709.5 560.6 710.8 565.6 M740.9 543.6 742.7 550.6 741.3 554.6 M741.3 554.6 739.6 560.6 740.9 565.6 M771 543.6 772.8 550.6 771.4 554.6 M771.4 554.6 769.7 560.6 771 565.6 M109.2 565.7 111 572.7 109.6 576.7 M109.6 576.7 107.9 582.7 109.2 587.7 M139.3 565.7 141.1 572.7 139.7 576.7 M139.7 576.7 138 582.7 139.3 587.7 M169.4 565.7 171.2 572.7 169.8 576.7 M169.8 576.7 168.1 582.7 169.4 587.7 M199.4 565.7 201.2 572.7 199.8 576.7 M199.8 576.7 198.1 582.7 199.4 587.7 M229.5 565.7 231.3 572.7 229.9 576.7 M229.9 576.7 228.2 582.7 229.5 587.7 M259.6 565.7 261.4 572.7 260 576.7 M260 576.7 258.3 582.7 259.6 587.7 M289.7 565.7 291.5 572.7 290.1 576.7 M290.1 576.7 288.4 582.7 289.7 587.7 M319.8 565.7 321.6 572.7 320.2 576.7 M320.2 576.7 318.5 582.7 319.8 587.7 M349.8 565.7 351.6 572.7 350.2 576.7 M350.2 576.7 348.5 582.7 349.8 587.7 M379.9 565.7 381.7 572.7 380.3 576.7 M380.3 576.7 378.6 582.7 379.9 587.7 M410 565.7 411.8 572.7 410.4 576.7 M410.4 576.7 408.7 582.7 410 587.7 M440.1 565.7 441.9 572.7 440.5 576.7 M440.5 576.7 438.8 582.7 440.1 587.7 M470.2 565.7 472 572.7 470.6 576.7 M470.6 576.7 468.9 582.7 470.2 587.7 M500.2 565.7 502 572.7 500.6 576.7 M500.6 576.7 498.9 582.7 500.2 587.7 M530.3 565.7 532.1 572.7 530.7 576.7 M530.7 576.7 529 582.7 530.3 587.7 M560.4 565.7 562.2 572.7 560.8 576.7 M560.8 576.7 559.1 582.7 560.4 587.7 M590.5 565.7 592.3 572.7 590.9 576.7 M590.9 576.7 589.2 582.7 590.5 587.7 M620.6 565.7 622.4 572.7 621 576.7 M621 576.7 619.3 582.7 620.6 587.7 M650.6 565.7 652.4 572.7 651 576.7 M651 576.7 649.3 582.7 650.6 587.7 M680.7 565.7 682.5 572.7 681.1 576.7 M681.1 576.7 679.4 582.7 680.7 587.7 M710.8 565.7 712.6 572.7 711.2 576.7 M711.2 576.7 709.5 582.7 710.8 587.7 M740.9 565.7 742.7 572.7 741.3 576.7 M741.3 576.7 739.6 582.7 740.9 587.7 M771 565.7 772.8 572.7 771.4 576.7 M771.4 576.7 769.7 582.7 771 587.7 M801 565.7 802.8 572.7 801.4 576.7 M801.4 576.7 799.7 582.7 801 587.7 M109.2 587.7 111 594.7 109.6 598.7 M109.6 598.7 109.3 604.7 108.7 609 M139.3 587.7 141.1 594.7 139.7 598.7 M139.7 598.7 139.4 604.7 138.8 609 M169.4 587.7 171.2 594.7 169.8 598.7 M169.8 598.7 169.5 604.7 168.9 609 M199.4 587.7 201.2 594.7 199.8 598.7 M199.8 598.7 199.5 604.7 198.9 609 M229.5 587.7 231.3 594.7 229.9 598.7 M229.9 598.7 229.6 604.7 229 609 M259.6 587.7 261.4 594.7 260 598.7 M260 598.7 259.7 604.7 259.1 609 M289.7 587.7 291.5 594.7 290.1 598.7 M290.1 598.7 289.8 604.7 289.2 609 M319.8 587.7 321.6 594.7 320.2 598.7 M320.2 598.7 319.9 604.7 319.3 609 M349.8 587.7 351.6 594.7 350.2 598.7 M350.2 598.7 349.9 604.7 349.3 609 M379.9 587.7 381.7 594.7 380.3 598.7 M380.3 598.7 380 604.7 379.4 609 M410 587.7 411.8 594.7 410.4 598.7 M410.4 598.7 410.1 604.7 409.5 609 M440.1 587.7 441.9 594.7 440.5 598.7 M440.5 598.7 440.2 604.7 439.6 609 M470.2 587.7 472 594.7 470.6 598.7 M470.6 598.7 470.3 604.7 469.7 609 M500.2 587.7 502 594.7 500.6 598.7 M500.6 598.7 500.3 604.7 499.7 609 M530.3 587.7 532.1 594.7 530.7 598.7 M530.7 598.7 530.4 604.7 529.8 609 M560.4 587.7 562.2 594.7 560.8 598.7 M560.8 598.7 560.5 604.7 559.9 609 M590.5 587.7 592.3 594.7 590.9 598.7 M590.9 598.7 590.6 604.7 590 609 M620.6 587.7 622.4 594.7 621 598.7 M621 598.7 620.7 604.7 620.1 609 M650.6 587.7 652.4 594.7 651 598.7 M651 598.7 650.7 604.7 650.1 609 M680.7 587.7 682.5 594.7 681.1 598.7 M681.1 598.7 680.8 604.7 680.2 609 M710.8 587.7 712.6 594.7 711.2 598.7 M711.2 598.7 710.9 604.7 710.3 609 M740.9 587.7 742.7 594.7 741.3 598.7 M741.3 598.7 741 604.7 740.4 609 M771 587.7 772.8 594.7 771.4 598.7 M771.4 598.7 771.1 604.7 770.5 609 M801 587.7 802.8 594.7 801.4 598.7 M801.4 598.7 801.1 604.7 800.5 609 M831.1 587.7 832.9 594.7 831.5 598.7 M831.5 598.7 831.2 604.7 830.6 609" fill="none" stroke="rgb(255,140,0)" stroke-opacity="0.75" stroke-width="2.0" stroke-linejoin="round" stroke-linecap="round"/>
<path d="M95.8 58.5 106.2 68.5 114.4 70.9 125.8 80.5 M106.2 68.5 107.8 74 M110.2 65.9 114.4 70.9 M95.8 80.5 104.5 89.5 109.6 91.5 M109.6 91.5 117.1 93.5 125.8 102.5 M125.9 80.5 134.6 89.5 139.7 91.5 M139.7 91.5 147.2 93.5 155.9 102.5 M95.8 102.6 104.5 111.6 109.6 113.6 M109.6 113.6 117.1 115.6 125.8 124.6 M125.9 102.6 134.6 111.6 139.7 113.6 M139.7 113.6 147.2 115.6 155.9 124.6 M156 102.6 164.7 111.6 169.8 113.6 M169.8 113.6 177.3 115.6 186 124.6 M95.8 124.7 104.5 133.7 109.6 135.7 M109.6 135.7 117.1 137.7 125.8 146.7 M125.9 124.7 134.6 133.7 139.7 135.7 M139.7 135.7 147.2 137.7 155.9 146.7 M156 124.7 164.7 133.7 169.8 135.7 M169.8 135.7 177.3 137.7 186 146.7 M186 124.7 194.7 133.7 199.8 135.7 M199.8 135.7 207.3 137.7 216 146.7 M95.8 146.7 104.5 155.7 109.6 157.7 M109.6 157.7 117.1 159.7 125.8 168.7 M125.9 146.7 134.6 155.7 139.7 157.7 M139.7 157.7 147.2 159.7 155.9 168.7 M156 146.7 164.7 155.7 169.8 157.7 M169.8 157.7 177.3 159.7 186 168.7 M186 146.7 194.7 155.7 199.8 157.7 M199.8 157.7 207.3 159.7 216 168.7 M216.1 146.7 224.8 155.7 229.9 157.7 M229.9 157.7 237.4 159.7 246.1 168.7 M95.8 168.8 104.5 177.8 109.6 179.8 M109.6 179.8 117.1 181.8 125.8 190.8 M125.9 168.8 134.6 177.8 139.7 179.8 M139.7 179.8 147.2 181.8 155.9 190.8 M156 168.8 164.7 177.8 169.8 179.8 M169.8 179.8 177.3 181.8 186 190.8 M186 168.8 194.7 177.8 199.8 179.8 M199.8 179.8 207.3 181.8 216 190.8 M216.1 168.8 224.8 177.8 229.9 179.8 M229.9 179.8 237.4 181.8 246.1 190.8 M246.2 168.8 254.9 177.8 260 179.8 M260 179.8 267.5 181.8 276.2 190.8 M95.8 190.8 104.5 199.8 109.6 201.8 M109.6 201.8 117.1 203.8 125.8 212.8 M125.9 190.8 134.6 199.8 139.7 201.8 M139.7 201.8 147.2 203.8 155.9 212.8 M156 190.8 164.7 199.8 169.8 201.8 M169.8 201.8 177.3 203.8 186 212.8 M186 190.8 194.7 199.8 199.8 201.8 M199.8 201.8 207.3 203.8 216 212.8 M216.1 190.8 224.8 199.8 229.9 201.8 M229.9 201.8 237.4 203.8 246.1 212.8 M246.2 190.8 254.9 199.8 260 201.8 M260 201.8 267.5 203.8 276.2 212.8 M276.3 190.8 285 199.8 290.1 201.8 M290.1 201.8 297.6 203.8 306.3 212.8 M95.8 212.8 104.5 221.8 109.6 223.8 M109.6 223.8 117.1 225.8 125.8 234.8 M125.9 212.8 134.6 221.8 139.7 223.8 M139.7 223.8 147.2 225.8 155.9 234.8 M156 212.8 164.7 221.8 169.8 223.8 M169.8 223.8 177.3 225.8 186 234.8 M186 212.8 194.7 221.8 199.8 223.8 M199.8 223.8 207.3 225.8 216 234.8 M216.1 212.8 224.8 221.8 229.9 223.8 M229.9 223.8 237.4 225.8 246.1 234.8 M246.2 212.8 254.9 221.8 260 223.8 M260 223.8 267.5 225.8 276.2 234.8 M276.3 212.8 285 221.8 290.1 223.8 M290.1 223.8 297.6 225.8 306.3 234.8 M306.4 212.8 315.1 221.8 320.2 223.8 M320.2 223.8 327.7 225.8 336.4 234.8 M95.8 234.9 104.5 243.9 109.6 245.9 M109.6 245.9 117.1 247.9 125.8 256.9 M125.9 234.9 134.6 243.9 139.7 245.9 M139.7 245.9 147.2 247.9 155.9 256.9 M156 234.9 164.7 243.9 169.8 245.9 M169.8 245.9 177.3 247.9 186 256.9 M186 234.9 194.7 243.9 199.8 245.9 M199.8 245.9 207.3 247.9 216 256.9 M216.1 234.9 224.8 243.9 229.9 245.9 M229.9 245.9 237.4 247.9 246.1 256.9 M246.2 234.9 254.9 243.9 260 245.9 M260 245.9 267.5 247.9 276.2 256.9 M276.3 234.9 285 243.9 290.1 245.9 M290.1 245.9 297.6 247.9 306.3 256.9 M306.4 234.9 315.1 243.9 320.2 245.9 M320.2 245.9 327.7 247.9 336.4 256.9 M336.4 234.9 345.1 243.9 350.2 245.9 M350.2 245.9 357.7 247.9 366.4 256.9 M95.8 257 104.5 266 109.6 268 M109.6 268 117.1 270 125.8 279 M125.9 257 134.6 266 139.7 268 M139.7 268 147.2 270 155.9 279 M156 257 164.7 266 169.8 268 M169.8 268 177.3 270 186 279 M186 257 194.7 266 199.8 268 M199.8 268 207.3 270 216 279 M216.1 257 224.8 266 229.9 268 M229.9 268 237.4 270 246.1 279 M246.2 257 254.9 266 260 268 M260 268 267.5 270 276.2 279 M276.3 257 285 266 290.1 268 M290.1 268 297.6 270 306.3 279 M306.4 257 315.1 266 320.2 268 M320.2 268 327.7 270 336.4 279 M336.4 257 345.1 266 350.2 268 M350.2 268 357.7 270 366.4 279 M366.5 257 375.2 266 380.3 268 M380.3 268 387.8 270 396.5 279 M95.8 279 106.2 289 114.4 291.4 125.8 301 M106.2 289 107.8 294.5 M110.2 286.4 114.4 291.4 M125.9 279 136.3 289 144.5 291.4 155.9 301 M136.3 289 137.9 294.5 M140.3 286.4 144.5 291.4 M156 279 164.7 288 169.8 290 M186 279 194.7 288 199.8 290 M216.1 279 224.8 288 229.9 290 M246.2 279 254.9 288 260 290 M276.3 279 285 288 290.1 290 M306.4 279 315.1 288 320.2 290 M336.4 279 346.8 289 355 291.4 366.4 301 M346.8 289 348.4 294.5 M350.8 286.4 355 291.4 M366.5 279 376.9 289 385.1 291.4 396.5 301 M376.9 289 378.5 294.5 M380.9 286.4 385.1 291.4 M396.6 279 405.3 288 410.4 290 M95.8 301.1 104.5 310.1 109.6 312.1 M109.6 312.1 117.1 314.1 125.8 323.1 M125.9 301.1 134.6 310.1 139.7 312.1 M139.7 312.1 147.2 314.1 155.9 323.1 M156 301.1 164.7 310.1 169.8 312.1 M169.8 312.1 177.3 314.1 186 323.1 M186 301.1 194.7 310.1 199.8 312.1 M199.8 312.1 207.3 314.1 216 323.1 M216.1 301.1 224.8 310.1 229.9 312.1 M229.9 312.1 237.4 314.1 246.1 323.1 M246.2 301.1 254.9 310.1 260 312.1 M260 312.1 267.5 314.1 276.2 323.1 M276.3 301.1 285 310.1 290.1 312.1 M290.1 312.1 297.6 314.1 306.3 323.1 M306.4 301.1 315.1 310.1 320.2 312.1 M320.2 312.1 327.7 314.1 336.4 323.1 M336.4 301.1 345.1 310.1 350.2 312.1 M350.2 312.1 357.7 314.1 366.4 323.1 M366.5 301.1 375.2 310.1 380.3 312.1 M380.3 312.1 387.8 314.1 396.5 323.1 M396.6 301.1 405.3 310.1 410.4 312.1 M410.4 312.1 417.9 314.1 426.6 323.1 M426.7 301.1 435.4 310.1 440.5 312.1 M440.5 312.1 448 314.1 456.7 323.1 M95.8 323.1 104.5 332.1 109.6 334.1 M109.6 334.1 117.1 336.1 125.8 345.1 M125.9 323.1 134.6 332.1 139.7 334.1 M139.7 334.1 147.2 336.1 155.9 345.1 M156 323.1 164.7 332.1 169.8 334.1 M169.8 334.1 177.3 336.1 186 345.1 M186 323.1 194.7 332.1 199.8 334.1 M199.8 334.1 207.3 336.1 216 345.1 M216.1 323.1 224.8 332.1 229.9 334.1 M229.9 334.1 237.4 336.1 246.1 345.1 M246.2 323.1 254.9 332.1 260 334.1 M260 334.1 267.5 336.1 276.2 345.1 M276.3 323.1 285 332.1 290.1 334.1 M290.1 334.1 297.6 336.1 306.3 345.1 M306.4 323.1 315.1 332.1 320.2 334.1 M320.2 334.1 327.7 336.1 336.4 345.1 M336.4 323.1 345.1 332.1 350.2 334.1 M350.2 334.1 357.7 336.1 366.4 345.1 M366.5 323.1 375.2 332.1 380.3 334.1 M380.3 334.1 387.8 336.1 396.5 345.1 M396.6 323.1 405.3 332.1 410.4 334.1 M410.4 334.1 417.9 336.1 426.6 345.1 M426.7 323.1 435.4 332.1 440.5 334.1 M440.5 334.1 448 336.1 456.7 345.1 M456.8 323.1 465.5 332.1 470.6 334.1 M470.6 334.1 478.1 336.1 486.8 345.1 M95.8 345.2 104.5 354.2 109.6 356.2 M109.6 356.2 117.1 358.2 125.8 367.2 M125.9 345.2 134.6 354.2 139.7 356.2 M139.7 356.2 147.2 358.2 155.9 367.2 M156 345.2 164.7 354.2 169.8 356.2 M169.8 356.2 177.3 358.2 186 367.2 M186 345.2 194.7 354.2 199.8 356.2 M199.8 356.2 207.3 358.2 216 367.2 M216.1 345.2 224.8 354.2 229.9 356.2 M229.9 356.2 237.4 358.2 246.1 367.2 M246.2 345.2 254.9 354.2 260 356.2 M260 356.2 267.5 358.2 276.2 367.2 M276.3 345.2 285 354.2 290.1 356.2 M290.1 356.2 297.6 358.2 306.3 367.2 M306.4 345.2 315.1 354.2 320.2 356.2 M320.2 356.2 327.7 358.2 336.4 367.2 M336.4 345.2 345.1 354.2 350.2 356.2 M350.2 356.2 357.7 358.2 366.4 367.2 M366.5 345.2 375.2 354.2 380.3 356.2 M380.3 356.2 387.8 358.2 396.5 367.2 M396.6 345.2 405.3 354.2 410.4 356.2 M410.4 356.2 417.9 358.2 426.6 367.2 M426.7 345.2 435.4 354.2 440.5 356.2 M440.5 356.2 448 358.2 456.7 367.2 M456.8 345.2 465.5 354.2 470.6 356.2 M470.6 356.2 478.1 358.2 486.8 367.2 M486.8 345.2 495.5 354.2 500.6 356.2 M500.6 356.2 508.1 358.2 516.8 367.2 M95.8 367.2 104.5 376.2 109.6 378.2 M109.6 378.2 117.1 380.2 125.8 389.2 M125.9 367.2 134.6 376.2 139.7 378.2 M139.7 378.2 147.2 380.2 155.9 389.2 M156 367.2 164.7 376.2 169.8 378.2 M169.8 378.2 177.3 380.2 186 389.2 M186 367.2 194.7 376.2 199.8 378.2 M199.8 378.2 207.3 380.2 216 389.2 M216.1 367.2 224.8 376.2 229.9 378.2 M229.9 378.2 237.4 380.2 246.1 389.2 M246.2 367.2 254.9 376.2 260 378.2 M260 378.2 267.5 380.2 276.2 389.2 M276.3 367.2 285 376.2 290.1 378.2 M290.1 378.2 297.6 380.2 306.3 389.2 M306.4 367.2 315.1 376.2 320.2 378.2 M320.2 378.2 327.7 380.2 336.4 389.2 M336.4 367.2 345.1 376.2 350.2 378.2 M350.2 378.2 357.7 380.2 366.4 389.2 M366.5 367.2 375.2 376.2 380.3 378.2 M380.3 378.2 387.8 380.2 396.5 389.2 M396.6 367.2 405.3 376.2 410.4 378.2 M410.4 378.2 417.9 380.2 426.6 389.2 M426.7 367.2 435.4 376.2 440.5 378.2 M440.5 378.2 448 380.2 456.7 389.2 M456.8 367.2 465.5 376.2 470.6 378.2 M470.6 378.2 478.1 380.2 486.8 389.2 M486.8 367.2 495.5 376.2 500.6 378.2 M500.6 378.2 508.1 380.2 516.8 389.2 M516.9 367.2 525.6 376.2 530.7 378.2 M530.7 378.2 538.2 380.2 546.9 389.2 M95.8 389.2 104.5 398.2 109.6 400.2 M109.6 400.2 117.1 402.2 125.8 411.2 M125.9 389.2 134.6 398.2 139.7 400.2 M139.7 400.2 147.2 402.2 155.9 411.2 M156 389.2 164.7 398.2 169.8 400.2 M169.8 400.2 177.3 402.2 186 411.2 M186 389.2 194.7 398.2 199.8 400.2 M199.8 400.2 207.3 402.2 216 411.2 M216.1 389.2 224.8 398.2 229.9 400.2 M229.9 400.2 237.4 402.2 246.1 411.2 M246.2 389.2 254.9 398.2 260 400.2 M260 400.2 267.5 402.2 276.2 411.2 M276.3 389.2 285 398.2 290.1 400.2 M290.1 400.2 297.6 402.2 306.3 411.2 M306.4 389.2 315.1 398.2 320.2 400.2 M320.2 400.2 327.7 402.2 336.4 411.2 M336.4 389.2 345.1 398.2 350.2 400.2 M350.2 400.2 357.7 402.2 366.4 411.2 M366.5 389.2 375.2 398.2 380.3 400.2 M380.3 400.2 387.8 402.2 396.5 411.2 M396.6 389.2 405.3 398.2 410.4 400.2 M410.4 400.2 417.9 402.2 426.6 411.2 M426.7 389.2 435.4 398.2 440.5 400.2 M440.5 400.2 448 402.2 456.7 411.2 M456.8 389.2 465.5 398.2 470.6 400.2 M470.6 400.2 478.1 402.2 486.8 411.2 M486.8 389.2 495.5 398.2 500.6 400.2 M500.6 400.2 508.1 402.2 516.8 411.2 M516.9 389.2 525.6 398.2 530.7 400.2 M530.7 400.2 538.2 402.2 546.9 411.2 M547 389.2 555.7 398.2 560.8 400.2 M560.8 400.2 568.3 402.2 577 411.2 M95.8 411.3 106.2 421.3 114.4 423.7 125.8 433.3 M106.2 421.3 107.8 426.8 M110.2 418.7 114.4 423.7 M125.9 411.3 134.6 420.3 139.7 422.3 M156 411.3 166.4 421.3 174.6 423.7 186 433.3 M166.4 421.3 168 426.8 M170.4 418.7 174.6 423.7 M186 411.3 194.7 420.3 199.8 422.3 M216.1 411.3 224.8 420.3 229.9 422.3 M246.2 411.3 254.9 420.3 260 422.3 M276.3 411.3 285 420.3 290.1 422.3 M306.4 411.3 315.1 420.3 320.2 422.3 M336.4 411.3 346.8 421.3 355 423.7 366.4 433.3 M346.8 421.3 348.4 426.8 M350.8 418.7 355 423.7 M366.5 411.3 375.2 420.3 380.3 422.3 M396.6 411.3 407 421.3 415.2 423.7 426.6 433.3 M407 421.3 408.6 426.8 M411 418.7 415.2 423.7 M426.7 411.3 435.4 420.3 440.5 422.3 M456.8 411.3 465.5 420.3 470.6 422.3 M486.8 411.3 495.5 420.3 500.6 422.3 M516.9 411.3 525.6 420.3 530.7 422.3 M547 411.3 555.7 420.3 560.8 422.3 M577.1 411.3 587.5 421.3 595.7 423.7 607.1 433.3 M587.5 421.3 589.1 426.8 M591.5 418.7 595.7 423.7 M95.8 433.4 104.5 442.4 109.6 444.4 M109.6 444.4 117.1 446.4 125.8 455.4 M125.9 433.4 134.6 442.4 139.7 444.4 M139.7 444.4 147.2 446.4 155.9 455.4 M156 433.4 164.7 442.4 169.8 444.4 M169.8 444.4 177.3 446.4 186 455.4 M186 433.4 194.7 442.4 199.8 444.4 M199.8 444.4 207.3 446.4 216 455.4 M216.1 433.4 224.8 442.4 229.9 444.4 M229.9 444.4 237.4 446.4 246.1 455.4 M246.2 433.4 254.9 442.4 260 444.4 M260 444.4 267.5 446.4 276.2 455.4 M276.3 433.4 285 442.4 290.1 444.4 M290.1 444.4 297.6 446.4 306.3 455.4 M306.4 433.4 315.1 442.4 320.2 444.4 M320.2 444.4 327.7 446.4 336.4 455.4 M336.4 433.4 345.1 442.4 350.2 444.4 M350.2 444.4 357.7 446.4 366.4 455.4 M366.5 433.4 375.2 442.4 380.3 444.4 M380.3 444.4 387.8 446.4 396.5 455.4 M396.6 433.4 405.3 442.4 410.4 444.4 M410.4 444.4 417.9 446.4 426.6 455.4 M426.7 433.4 435.4 442.4 440.5 444.4 M440.5 444.4 448 446.4 456.7 455.4 M456.8 433.4 465.5 442.4 470.6 444.4 M470.6 444.4 478.1 446.4 486.8 455.4 M486.8 433.4 495.5 442.4 500.6 444.4 M500.6 444.4 508.1 446.4 516.8 455.4 M516.9 433.4 525.6 442.4 530.7 444.4 M530.7 444.4 538.2 446.4 546.9 455.4 M547 433.4 555.7 442.4 560.8 444.4 M560.8 444.4 568.3 446.4 577 455.4 M577.1 433.4 585.8 442.4 590.9 444.4 M590.9 444.4 598.4 446.4 607.1 455.4 M607.2 433.4 615.9 442.4 621 444.4 M621 444.4 628.5 446.4 637.2 455.4 M95.8 455.4 104.5 464.4 109.6 466.4 M109.6 466.4 117.1 468.4 125.8 477.4 M125.9 455.4 134.6 464.4 139.7 466.4 M139.7 466.4 147.2 468.4 155.9 477.4 M156 455.4 164.7 464.4 169.8 466.4 M169.8 466.4 177.3 468.4 186 477.4 M186 455.4 194.7 464.4 199.8 466.4 M199.8 466.4 207.3 468.4 216 477.4 M216.1 455.4 224.8 464.4 229.9 466.4 M229.9 466.4 237.4 468.4 246.1 477.4 M246.2 455.4 254.9 464.4 260 466.4 M260 466.4 267.5 468.4 276.2 477.4 M276.3 455.4 285 464.4 290.1 466.4 M290.1 466.4 297.6 468.4 306.3 477.4 M306.4 455.4 315.1 464.4 320.2 466.4 M320.2 466.4 327.7 468.4 336.4 477.4 M336.4 455.4 345.1 464.4 350.2 466.4 M350.2 466.4 357.7 468.4 366.4 477.4 M366.5 455.4 375.2 464.4 380.3 466.4 M380.3 466.4 387.8 468.4 396.5 477.4 M396.6 455.4 405.3 464.4 410.4 466.4 M410.4 466.4 417.9 468.4 426.6 477.4 M426.7 455.4 435.4 464.4 440.5 466.4 M440.5 466.4 448 468.4 456.7 477.4 M456.8 455.4 465.5 464.4 470.6 466.4 M470.6 466.4 478.1 468.4 486.8 477.4 M486.8 455.4 495.5 464.4 500.6 466.4 M500.6 466.4 508.1 468.4 516.8 477.4 M516.9 455.4 525.6 464.4 530.7 466.4 M530.7 466.4 538.2 468.4 546.9 477.4 M547 455.4 555.7 464.4 560.8 466.4 M560.8 466.4 568.3 468.4 577 477.4 M577.1 455.4 585.8 464.4 590.9 466.4 M590.9 466.4 598.4 468.4 607.1 477.4 M607.2 455.4 615.9 464.4 621 466.4 M621 466.4 628.5 468.4 637.2 477.4 M637.2 455.4 645.9 464.4 651 466.4 M651 466.4 658.5 468.4 667.2 477.4 M95.8 477.4 104.5 486.4 109.6 488.4 M109.6 488.4 117.1 490.4 125.8 499.4 M125.9 477.4 134.6 486.4 139.7 488.4 M139.7 488.4 147.2 490.4 155.9 499.4 M156 477.4 164.7 486.4 169.8 488.4 M169.8 488.4 177.3 490.4 186 499.4 M186 477.4 194.7 486.4 199.8 488.4 M199.8 488.4 207.3 490.4 216 499.4 M216.1 477.4 224.8 486.4 229.9 488.4 M229.9 488.4 237.4 490.4 246.1 499.4 M246.2 477.4 254.9 486.4 260 488.4 M260 488.4 267.5 490.4 276.2 499.4 M276.3 477.4 285 486.4 290.1 488.4 M290.1 488.4 297.6 490.4 306.3 499.4 M306.4 477.4 315.1 486.4 320.2 488.4 M320.2 488.4 327.7 490.4 336.4 499.4 M336.4 477.4 345.1 486.4 350.2 488.4 M350.2 488.4 357.7 490.4 366.4 499.4 M366.5 477.4 375.2 486.4 380.3 488.4 M380.3 488.4 387.8 490.4 396.5 499.4 M396.6 477.4 405.3 486.4 410.4 488.4 M410.4 488.4 417.9 490.4 426.6 499.4 M426.7 477.4 435.4 486.4 440.5 488.4 M440.5 488.4 448 490.4 456.7 499.4 M456.8 477.4 465.5 486.4 470.6 488.4 M470.6 488.4 478.1 490.4 486.8 499.4 M486.8 477.4 495.5 486.4 500.6 488.4 M500.6 488.4 508.1 490.4 516.8 499.4 M516.9 477.4 525.6 486.4 530.7 488.4 M530.7 488.4 538.2 490.4 546.9 499.4 M547 477.4 555.7 486.4 560.8 488.4 M560.8 488.4 568.3 490.4 577 499.4 M577.1 477.4 585.8 486.4 590.9 488.4 M590.9 488.4 598.4 490.4 607.1 499.4 M607.2 477.4 615.9 486.4 621 488.4 M621 488.4 628.5 490.4 637.2 499.4 M637.2 477.4 645.9 486.4 651 488.4 M651 488.4 658.5 490.4 667.2 499.4 M667.3 477.4 676 486.4 681.1 488.4 M681.1 488.4 688.6 490.4 697.3 499.4 M95.8 499.5 104.5 508.5 109.6 510.5 M109.6 510.5 117.1 512.5 125.8 521.5 M125.9 499.5 134.6 508.5 139.7 510.5 M139.7 510.5 147.2 512.5 155.9 521.5 M156 499.5 164.7 508.5 169.8 510.5 M169.8 510.5 177.3 512.5 186 521.5 M186 499.5 194.7 508.5 199.8 510.5 M199.8 510.5 207.3 512.5 216 521.5 M216.1 499.5 224.8 508.5 229.9 510.5 M229.9 510.5 237.4 512.5 246.1 521.5 M246.2 499.5 254.9 508.5 260 510.5 M260 510.5 267.5 512.5 276.2 521.5 M276.3 499.5 285 508.5 290.1 510.5 M290.1 510.5 297.6 512.5 306.3 521.5 M306.4 499.5 315.1 508.5 320.2 510.5 M320.2 510.5 327.7 512.5 336.4 521.5 M336.4 499.5 345.1 508.5 350.2 510.5 M350.2 510.5 357.7 512.5 366.4 521.5 M366.5 499.5 375.2 508.5 380.3 510.5 M380.3 510.5 387.8 512.5 396.5 521.5 M396.6 499.5 405.3 508.5 410.4 510.5 M410.4 510.5 417.9 512.5 426.6 521.5 M426.7 499.5 435.4 508.5 440.5 510.5 M440.5 510.5 448 512.5 456.7 521.5 M456.8 499.5 465.5 508.5 470.6 510.5 M470.6 510.5 478.1 512.5 486.8 521.5 M486.8 499.5 495.5 508.5 500.6 510.5 M500.6 510.5 508.1 512.5 516.8 521.5 M516.9 499.5 525.6 508.5 530.7 510.5 M530.7 510.5 538.2 512.5 546.9 521.5 M547 499.5 555.7 508.5 560.8 510.5 M560.8 510.5 568.3 512.5 577 521.5 M577.1 499.5 585.8 508.5 590.9 510.5 M590.9 510.5 598.4 512.5 607.1 521.5 M607.2 499.5 615.9 508.5 621 510.5 M621 510.5 628.5 512.5 637.2 521.5 M637.2 499.5 645.9 508.5 651 510.5 M651 510.5 658.5 512.5 667.2 521.5 M667.3 499.5 676 508.5 681.1 510.5 M681.1 510.5 688.6 512.5 697.3 521.5 M697.4 499.5 706.1 508.5 711.2 510.5 M711.2 510.5 718.7 512.5 727.4 521.5 M95.8 521.5 106.2 531.5 114.4 533.9 125.8 543.5 M106.2 531.5 107.8 537 M110.2 528.9 114.4 533.9 M125.9 521.5 134.6 530.5 139.7 532.5 M156 521.5 164.7 530.5 169.8 532.5 M186 521.5 194.7 530.5 199.8 532.5 M216.1 521.5 226.5 531.5 234.7 533.9 246.1 543.5 M226.5 531.5 228.1 537 M230.5 528.9 234.7 533.9 M246.2 521.5 254.9 530.5 260 532.5 M276.3 521.5 285 530.5 290.1 532.5 M306.4 521.5 315.1 530.5 320.2 532.5 M336.4 521.5 346.8 531.5 355 533.9 366.4 543.5 M346.8 531.5 348.4 537 M350.8 528.9 355 533.9 M366.5 521.5 375.2 530.5 380.3 532.5 M396.6 521.5 405.3 530.5 410.4 532.5 M426.7 521.5 435.4 530.5 440.5 532.5 M456.8 521.5 467.2 531.5 475.4 533.9 486.8 543.5 M467.2 531.5 468.8 537 M471.2 528.9 475.4 533.9 M486.8 521.5 495.5 530.5 500.6 532.5 M516.9 521.5 525.6 530.5 530.7 532.5 M547 521.5 555.7 530.5 560.8 532.5 M577.1 521.5 587.5 531.5 595.7 533.9 607.1 543.5 M587.5 531.5 589.1 537 M591.5 528.9 595.7 533.9 M607.2 521.5 615.9 530.5 621 532.5 M637.2 521.5 645.9 530.5 651 532.5 M667.3 521.5 676 530.5 681.1 532.5 M697.4 521.5 707.8 531.5 716 533.9 727.4 543.5 M707.8 531.5 709.4 537 M711.8 528.9 716 533.9 M727.5 521.5 736.2 530.5 741.3 532.5 M95.8 543.6 104.5 552.6 109.6 554.6 M109.6 554.6 117.1 556.6 125.8 565.6 M125.9 543.6 134.6 552.6 139.7 554.6 M139.7 554.6 147.2 556.6 155.9 565.6 M156 543.6 164.7 552.6 169.8 554.6 M169.8 554.6 177.3 556.6 186 565.6 M186 543.6 194.7 552.6 199.8 554.6 M199.8 554.6 207.3 556.6 216 565.6 M216.1 543.6 224.8 552.6 229.9 554.6 M229.9 554.6 237.4 556.6 246.1 565.6 M246.2 543.6 254.9 552.6 260 554.6 M260 554.6 267.5 556.6 276.2 565.6 M276.3 543.6 285 552.6 290.1 554.6 M290.1 554.6 297.6 556.6 306.3 565.6 M306.4 543.6 315.1 552.6 320.2 554.6 M320.2 554.6 327.7 556.6 336.4 565.6 M336.4 543.6 345.1 552.6 350.2 554.6 M350.2 554.6 357.7 556.6 366.4 565.6 M366.5 543.6 375.2 552.6 380.3 554.6 M380.3 554.6 387.8 556.6 396.5 565.6 M396.6 543.6 405.3 552.6 410.4 554.6 M410.4 554.6 417.9 556.6 426.6 565.6 M426.7 543.6 435.4 552.6 440.5 554.6 M440.5 554.6 448 556.6 456.7 565.6 M456.8 543.6 465.5 552.6 470.6 554.6 M470.6 554.6 478.1 556.6 486.8 565.6 M486.8 543.6 495.5 552.6 500.6 554.6 M500.6 554.6 508.1 556.6 516.8 565.6 M516.9 543.6 525.6 552.6 530.7 554.6 M530.7 554.6 538.2 556.6 546.9 565.6 M547 543.6 555.7 552.6 560.8 554.6 M560.8 554.6 568.3 556.6 577 565.6 M577.1 543.6 585.8 552.6 590.9 554.6 M590.9 554.6 598.4 556.6 607.1 565.6 M607.2 543.6 615.9 552.6 621 554.6 M621 554.6 628.5 556.6 637.2 565.6 M637.2 543.6 645.9 552.6 651 554.6 M651 554.6 658.5 556.6 667.2 565.6 M667.3 543.6 676 552.6 681.1 554.6 M681.1 554.6 688.6 556.6 697.3 565.6 M697.4 543.6 706.1 552.6 711.2 554.6 M711.2 554.6 718.7 556.6 727.4 565.6 M727.5 543.6 736.2 552.6 741.3 554.6 M741.3 554.6 748.8 556.6 757.5 565.6 M757.6 543.6 766.3 552.6 771.4 554.6 M771.4 554.6 778.9 556.6 787.6 565.6 M95.8 565.7 104.5 574.7 109.6 576.7 M109.6 576.7 117.1 578.7 125.8 587.7 M125.9 565.7 134.6 574.7 139.7 576.7 M139.7 576.7 147.2 578.7 155.9 587.7 M156 565.7 164.7 574.7 169.8 576.7 M169.8 576.7 177.3 578.7 186 587.7 M186 565.7 194.7 574.7 199.8 576.7 M199.8 576.7 207.3 578.7 216 587.7 M216.1 565.7 224.8 574.7 229.9 576.7 M229.9 576.7 237.4 578.7 246.1 587.7 M246.2 565.7 254.9 574.7 260 576.7 M260 576.7 267.5 578.7 276.2 587.7 M276.3 565.7 285 574.7 290.1 576.7 M290.1 576.7 297.6 578.7 306.3 587.7 M306.4 565.7 315.1 574.7 320.2 576.7 M320.2 576.7 327.7 578.7 336.4 587.7 M336.4 565.7 345.1 574.7 350.2 576.7 M350.2 576.7 357.7 578.7 366.4 587.7 M366.5 565.7 375.2 574.7 380.3 576.7 M380.3 576.7 387.8 578.7 396.5 587.7 M396.6 565.7 405.3 574.7 410.4 576.7 M410.4 576.7 417.9 578.7 426.6 587.7 M426.7 565.7 435.4 574.7 440.5 576.7 M440.5 576.7 448 578.7 456.7 587.7 M456.8 565.7 465.5 574.7 470.6 576.7 M470.6 576.7 478.1 578.7 486.8 587.7 M486.8 565.7 495.5 574.7 500.6 576.7 M500.6 576.7 508.1 578.7 516.8 587.7 M516.9 565.7 525.6 574.7 530.7 576.7 M530.7 576.7 538.2 578.7 546.9 587.7 M547 565.7 555.7 574.7 560.8 576.7 M560.8 576.7 568.3 578.7 577 587.7 M577.1 565.7 585.8 574.7 590.9 576.7 M590.9 576.7 598.4 578.7 607.1 587.7 M607.2 565.7 615.9 574.7 621 576.7 M621 576.7 628.5 578.7 637.2 587.7 M637.2 565.7 645.9 574.7 651 576.7 M651 576.7 658.5 578.7 667.2 587.7 M667.3 565.7 676 574.7 681.1 576.7 M681.1 576.7 688.6 578.7 697.3 587.7 M697.4 565.7 706.1 574.7 711.2 576.7 M711.2 576.7 718.7 578.7 727.4 587.7 M727.5 565.7 736.2 574.7 741.3 576.7 M741.3 576.7 748.8 578.7 757.5 587.7 M757.6 565.7 766.3 574.7 771.4 576.7 M771.4 576.7 778.9 578.7 787.6 587.7 M787.6 565.7 796.3 574.7 801.4 576.7 M801.4 576.7 808.9 578.7 817.6 587.7 M95.8 587.7 106.2 599.5 107.3 604 108.7 609 M125.9 587.7 136.3 599.5 137.4 604 138.8 609 M156 587.7 166.4 599.5 167.5 604 168.9 609 M186 587.7 196.4 599.5 197.5 604 198.9 609 M216.1 587.7 226.5 599.5 227.6 604 229 609 M246.2 587.7 256.6 599.5 257.7 604 259.1 609 M276.3 587.7 286.7 599.5 287.8 604 289.2 609 M306.4 587.7 316.8 599.5 317.9 604 319.3 609 M336.4 587.7 346.8 599.5 347.9 604 349.3 609 M366.5 587.7 376.9 599.5 378 604 379.4 609 M396.6 587.7 407 599.5 408.1 604 409.5 609 M426.7 587.7 437.1 599.5 438.2 604 439.6 609 M456.8 587.7 467.2 599.5 468.3 604 469.7 609 M486.8 587.7 497.2 599.5 498.3 604 499.7 609 M516.9 587.7 527.3 599.5 528.4 604 529.8 609 M547 587.7 557.4 599.5 558.5 604 559.9 609 M577.1 587.7 587.5 599.5 588.6 604 590 609 M607.2 587.7 617.6 599.5 618.7 604 620.1 609 M637.2 587.7 647.6 599.5 648.7 604 650.1 609 M667.3 587.7 677.7 599.5 678.8 604 680.2 609 M697.4 587.7 707.8 599.5 708.9 604 710.3 609 M727.5 587.7 737.9 599.5 739 604 740.4 609 M757.6 587.7 768 599.5 769.1 604 770.5 609 M787.6 587.7 798 599.5 799.1 604 800.5 609 M817.7 587.7 828.1 599.5 829.2 604 830.6 609" fill="none" stroke="rgb(255,140,0)" stroke-opacity="0.75" stroke-width="2.0" stroke-linejoin="round" stroke-linecap="round"/>
<path d="M94.4 46.5 V599.8 H845.5" fill="none" stroke="#737373" stroke-width="1.9"/>
<path d="M109.6 599.8 v-7.5" stroke="#737373" stroke-width="1.2"/>
<path d="M260 599.8 v-7.5" stroke="#737373" stroke-width="1.2"/>
<path d="M410.4 599.8 v-7.5" stroke="#737373" stroke-width="1.2"/>
<path d="M560.8 599.8 v-7.5" stroke="#737373" stroke-width="1.2"/>
<path d="M711.2 599.8 v-7.5" stroke="#737373" stroke-width="1.2"/>
<path d="M109.6 69.5 L109.6 290 M109.6 290 L109.6 422.3 M109.6 422.3 L109.6 532.5 M109.6 532.5 L109.6 598.7 M109.6 532.5 L199.8 598.7 M109.6 422.3 L260 532.5 M260 532.5 L260 598.7 M109.6 290 L290.1 422.3 M290.1 422.3 L290.1 532.5 M290.1 532.5 L290.1 598.7 M109.6 69.5 L410.4 290 M410.4 290 L410.4 422.3 M410.4 422.3 L410.4 532.5 M410.4 532.5 L410.4 598.7 M410.4 422.3 L560.8 532.5 M560.8 532.5 L560.8 598.7" fill="none" stroke="rgb(0,0,255)" stroke-opacity="0.75" stroke-width="1.7" stroke-linejoin="round" stroke-linecap="butt"/>
<path d="M109.6 25 V48.8" stroke="rgb(0,0,255)" stroke-width="1.6"/>
<path d="M109.6 60.8 L100.6 37.3 L109.6 44.8 L118.6 37.3 Z" fill="rgb(0,0,255)"/>
<path d="M560.8 704.5 V738" stroke="#008000" stroke-width="1.05"/>
<path d="M560.8 692.5 L551.3 717 L560.8 710 L570.3 717 Z" fill="#008000"/>
<ellipse cx="956" cy="70.3" rx="6.25" ry="5.85" fill="none" stroke="#00ffff" stroke-width="3.8"/>
<ellipse cx="956" cy="287" rx="6.25" ry="5.85" fill="none" stroke="#00ffff" stroke-width="3.8"/>
<path d="M978 279.8 L994.1 279.8 L986.1 294.1ZM986.1 287.6 L988.8 282.7 L983.3 282.7Z" fill="#b00000" stroke="#b00000" stroke-width="0.8" stroke-linejoin="round"/>
<ellipse cx="1016.2" cy="287" rx="6.25" ry="5.85" fill="none" stroke="#00ffff" stroke-width="3.8"/>
<path d="M1038.2 279.8 L1054.3 279.8 L1046.2 294.1ZM1046.2 287.6 L1049 282.7 L1043.5 282.7Z" fill="#b00000" stroke="#b00000" stroke-width="0.8" stroke-linejoin="round"/>
<ellipse cx="1076.3" cy="287" rx="6.25" ry="5.85" fill="none" stroke="#00ffff" stroke-width="3.8"/>
<path d="M1098.4 279.8 L1114.5 279.8 L1106.4 294.1ZM1106.4 287.6 L1109.1 282.7 L1103.7 282.7Z" fill="#b00000" stroke="#b00000" stroke-width="0.8" stroke-linejoin="round"/>
<ellipse cx="1136.5" cy="287" rx="6.25" ry="5.85" fill="none" stroke="#00ffff" stroke-width="3.8"/>
<path d="M1158.5 279.8 L1174.6 279.8 L1166.6 294.1ZM1166.6 287.6 L1169.3 282.7 L1163.8 282.7Z" fill="#b00000" stroke="#b00000" stroke-width="0.8" stroke-linejoin="round"/>
<path d="M1188.6 279.8 L1204.7 279.8 L1196.6 294.1ZM1196.6 287.6 L1199.4 282.7 L1193.9 282.7Z" fill="#b00000" stroke="#b00000" stroke-width="0.8" stroke-linejoin="round"/>
<path d="M1218.7 279.8 L1234.8 279.8 L1226.7 294.1ZM1226.7 287.6 L1229.5 282.7 L1224 282.7Z" fill="#b00000" stroke="#b00000" stroke-width="0.8" stroke-linejoin="round"/>
<path d="M1248.8 279.8 L1264.8 279.8 L1256.8 294.1ZM1256.8 287.6 L1259.5 282.7 L1254.1 282.7Z" fill="#b00000" stroke="#b00000" stroke-width="0.8" stroke-linejoin="round"/>
<ellipse cx="956" cy="485.2" rx="6.25" ry="5.85" fill="none" stroke="#00ffff" stroke-width="3.8"/>
<path d="M978 478 L994.1 478 L986.1 492.3ZM986.1 485.7 L988.8 480.9 L983.3 480.9Z" fill="#b00000" stroke="#b00000" stroke-width="0.8" stroke-linejoin="round"/>
<path d="M1008.1 478 L1024.2 478 L1016.2 492.3ZM1016.2 485.7 L1018.9 480.9 L1013.4 480.9Z" fill="#b00000" stroke="#b00000" stroke-width="0.8" stroke-linejoin="round"/>
<path d="M1038.2 478 L1054.3 478 L1046.2 492.3ZM1046.2 485.7 L1049 480.9 L1043.5 480.9Z" fill="#b00000" stroke="#b00000" stroke-width="0.8" stroke-linejoin="round"/>
<ellipse cx="1076.3" cy="485.2" rx="6.25" ry="5.85" fill="none" stroke="#00ffff" stroke-width="3.8"/>
<path d="M1098.4 478 L1114.5 478 L1106.4 492.3ZM1106.4 485.7 L1109.1 480.9 L1103.7 480.9Z" fill="#b00000" stroke="#b00000" stroke-width="0.8" stroke-linejoin="round"/>
<path d="M1128.4 478 L1144.5 478 L1136.5 492.3ZM1136.5 485.7 L1139.2 480.9 L1133.7 480.9Z" fill="#b00000" stroke="#b00000" stroke-width="0.8" stroke-linejoin="round"/>
<path d="M1158.5 478 L1174.6 478 L1166.6 492.3ZM1166.6 485.7 L1169.3 480.9 L1163.8 480.9Z" fill="#b00000" stroke="#b00000" stroke-width="0.8" stroke-linejoin="round"/>
<ellipse cx="1196.6" cy="485.2" rx="6.25" ry="5.85" fill="none" stroke="#00ffff" stroke-width="3.8"/>
<path d="M1218.7 478 L1234.8 478 L1226.7 492.3ZM1226.7 485.7 L1229.5 480.9 L1224 480.9Z" fill="#b00000" stroke="#b00000" stroke-width="0.8" stroke-linejoin="round"/>
<path d="M1248.8 478 L1264.8 478 L1256.8 492.3ZM1256.8 485.7 L1259.5 480.9 L1254.1 480.9Z" fill="#b00000" stroke="#b00000" stroke-width="0.8" stroke-linejoin="round"/>
<path d="M1278.8 478 L1294.9 478 L1286.9 492.3ZM1286.9 485.7 L1289.6 480.9 L1284.1 480.9Z" fill="#b00000" stroke="#b00000" stroke-width="0.8" stroke-linejoin="round"/>
<ellipse cx="1317" cy="485.2" rx="6.25" ry="5.85" fill="none" stroke="#00ffff" stroke-width="3.8"/>
<path d="M1339 478 L1355.1 478 L1347 492.3ZM1347 485.7 L1349.8 480.9 L1344.3 480.9Z" fill="#b00000" stroke="#b00000" stroke-width="0.8" stroke-linejoin="round"/>
<path d="M1369.1 478 L1385.2 478 L1377.1 492.3ZM1377.1 485.7 L1379.9 480.9 L1374.4 480.9Z" fill="#b00000" stroke="#b00000" stroke-width="0.8" stroke-linejoin="round"/>
<path d="M1399.2 478 L1415.2 478 L1407.2 492.3ZM1407.2 485.7 L1409.9 480.9 L1404.5 480.9Z" fill="#b00000" stroke="#b00000" stroke-width="0.8" stroke-linejoin="round"/>
<ellipse cx="1437.3" cy="485.2" rx="6.25" ry="5.85" fill="none" stroke="#00ffff" stroke-width="3.8"/>
<path d="M1459.3 478 L1475.4 478 L1467.4 492.3ZM1467.4 485.7 L1470.1 480.9 L1464.6 480.9Z" fill="#b00000" stroke="#b00000" stroke-width="0.8" stroke-linejoin="round"/>
<path d="M1489.4 478 L1505.5 478 L1497.4 492.3ZM1497.4 485.7 L1500.2 480.9 L1494.7 480.9Z" fill="#b00000" stroke="#b00000" stroke-width="0.8" stroke-linejoin="round"/>
<path d="M1519.5 478 L1535.6 478 L1527.5 492.3ZM1527.5 485.7 L1530.3 480.9 L1524.8 480.9Z" fill="#b00000" stroke="#b00000" stroke-width="0.8" stroke-linejoin="round"/>
<ellipse cx="956" cy="551.2" rx="6.25" ry="5.85" fill="none" stroke="#00ffff" stroke-width="3.8"/>
<ellipse cx="986.1" cy="551.2" rx="6.25" ry="5.85" fill="none" stroke="#00ffff" stroke-width="3.8"/>
<path d="M1008.1 544 L1024.2 544 L1016.2 558.3ZM1016.2 551.8 L1018.9 546.9 L1013.4 546.9Z" fill="#b00000" stroke="#b00000" stroke-width="0.8" stroke-linejoin="round"/>
<path d="M1038.2 544 L1054.3 544 L1046.2 558.3ZM1046.2 551.8 L1049 546.9 L1043.5 546.9Z" fill="#b00000" stroke="#b00000" stroke-width="0.8" stroke-linejoin="round"/>
<ellipse cx="1076.3" cy="551.2" rx="6.25" ry="5.85" fill="none" stroke="#00ffff" stroke-width="3.8"/>
<ellipse cx="1106.4" cy="551.2" rx="6.25" ry="5.85" fill="none" stroke="#00ffff" stroke-width="3.8"/>
<path d="M1128.4 544 L1144.5 544 L1136.5 558.3ZM1136.5 551.8 L1139.2 546.9 L1133.7 546.9Z" fill="#b00000" stroke="#b00000" stroke-width="0.8" stroke-linejoin="round"/>
<path d="M1158.5 544 L1174.6 544 L1166.6 558.3ZM1166.6 551.8 L1169.3 546.9 L1163.8 546.9Z" fill="#b00000" stroke="#b00000" stroke-width="0.8" stroke-linejoin="round"/>
<ellipse cx="1196.6" cy="551.2" rx="6.25" ry="5.85" fill="none" stroke="#00ffff" stroke-width="3.8"/>
<ellipse cx="1226.7" cy="551.2" rx="6.25" ry="5.85" fill="none" stroke="#00ffff" stroke-width="3.8"/>
<path d="M1248.8 544 L1264.8 544 L1256.8 558.3ZM1256.8 551.8 L1259.5 546.9 L1254.1 546.9Z" fill="#b00000" stroke="#b00000" stroke-width="0.8" stroke-linejoin="round"/>
<path d="M1278.8 544 L1294.9 544 L1286.9 558.3ZM1286.9 551.8 L1289.6 546.9 L1284.1 546.9Z" fill="#b00000" stroke="#b00000" stroke-width="0.8" stroke-linejoin="round"/>
<ellipse cx="1317" cy="551.2" rx="6.25" ry="5.85" fill="none" stroke="#00ffff" stroke-width="3.8"/>
<ellipse cx="1347" cy="551.2" rx="6.25" ry="5.85" fill="none" stroke="#00ffff" stroke-width="3.8"/>
<path d="M1369.1 544 L1385.2 544 L1377.1 558.3ZM1377.1 551.8 L1379.9 546.9 L1374.4 546.9Z" fill="#b00000" stroke="#b00000" stroke-width="0.8" stroke-linejoin="round"/>
<path d="M1399.2 544 L1415.2 544 L1407.2 558.3ZM1407.2 551.8 L1409.9 546.9 L1404.5 546.9Z" fill="#b00000" stroke="#b00000" stroke-width="0.8" stroke-linejoin="round"/>
<ellipse cx="1437.3" cy="551.2" rx="6.25" ry="5.85" fill="none" stroke="#00ffff" stroke-width="3.8"/>
<ellipse cx="1467.4" cy="551.2" rx="6.25" ry="5.85" fill="none" stroke="#00ffff" stroke-width="3.8"/>
<path d="M1489.4 544 L1505.5 544 L1497.4 558.3ZM1497.4 551.8 L1500.2 546.9 L1494.7 546.9Z" fill="#b00000" stroke="#b00000" stroke-width="0.8" stroke-linejoin="round"/>
<path d="M1519.5 544 L1535.6 544 L1527.5 558.3ZM1527.5 551.8 L1530.3 546.9 L1524.8 546.9Z" fill="#b00000" stroke="#b00000" stroke-width="0.8" stroke-linejoin="round"/>
<ellipse cx="1557.6" cy="551.2" rx="6.25" ry="5.85" fill="none" stroke="#00ffff" stroke-width="3.8"/>
<ellipse cx="1587.7" cy="551.2" rx="6.25" ry="5.85" fill="none" stroke="#00ffff" stroke-width="3.8"/>
<path d="M1609.7 544 L1625.8 544 L1617.8 558.3ZM1617.8 551.8 L1620.5 546.9 L1615 546.9Z" fill="#b00000" stroke="#b00000" stroke-width="0.8" stroke-linejoin="round"/>
<path d="M955.6 55.8 957.2 61.3 956.6 63.2 954.2 71.3 954.4 73.8 955.6 77.8 M955.6 77.8 957.4 84.8 956 88.8 M956 88.8 954.3 94.8 955.6 99.8 M985.7 77.8 987.5 84.8 986.1 88.8 M986.1 88.8 984.4 94.8 985.7 99.8 M955.6 99.8 957.4 106.8 956 110.8 M956 110.8 954.3 116.8 955.6 121.8 M985.7 99.8 987.5 106.8 986.1 110.8 M986.1 110.8 984.4 116.8 985.7 121.8 M1015.8 99.8 1017.6 106.8 1016.2 110.8 M1016.2 110.8 1014.5 116.8 1015.8 121.8 M955.6 121.9 957.4 128.9 956 132.9 M956 132.9 954.3 138.9 955.6 143.9 M985.7 121.9 987.5 128.9 986.1 132.9 M986.1 132.9 984.4 138.9 985.7 143.9 M1015.8 121.9 1017.6 128.9 1016.2 132.9 M1016.2 132.9 1014.5 138.9 1015.8 143.9 M1045.8 121.9 1047.6 128.9 1046.2 132.9 M1046.2 132.9 1044.5 138.9 1045.8 143.9 M955.6 143.9 957.4 150.9 956 154.9 M956 154.9 954.3 160.9 955.6 165.9 M985.7 143.9 987.5 150.9 986.1 154.9 M986.1 154.9 984.4 160.9 985.7 165.9 M1015.8 143.9 1017.6 150.9 1016.2 154.9 M1016.2 154.9 1014.5 160.9 1015.8 165.9 M1045.8 143.9 1047.6 150.9 1046.2 154.9 M1046.2 154.9 1044.5 160.9 1045.8 165.9 M1075.9 143.9 1077.7 150.9 1076.3 154.9 M1076.3 154.9 1074.6 160.9 1075.9 165.9 M955.6 165.9 957.4 172.9 956 176.9 M956 176.9 954.3 182.9 955.6 187.9 M985.7 165.9 987.5 172.9 986.1 176.9 M986.1 176.9 984.4 182.9 985.7 187.9 M1015.8 165.9 1017.6 172.9 1016.2 176.9 M1016.2 176.9 1014.5 182.9 1015.8 187.9 M1045.8 165.9 1047.6 172.9 1046.2 176.9 M1046.2 176.9 1044.5 182.9 1045.8 187.9 M1075.9 165.9 1077.7 172.9 1076.3 176.9 M1076.3 176.9 1074.6 182.9 1075.9 187.9 M1106 165.9 1107.8 172.9 1106.4 176.9 M1106.4 176.9 1104.7 182.9 1106 187.9 M955.6 187.9 957.4 194.9 956 198.9 M956 198.9 954.3 204.9 955.6 209.9 M985.7 187.9 987.5 194.9 986.1 198.9 M986.1 198.9 984.4 204.9 985.7 209.9 M1015.8 187.9 1017.6 194.9 1016.2 198.9 M1016.2 198.9 1014.5 204.9 1015.8 209.9 M1045.8 187.9 1047.6 194.9 1046.2 198.9 M1046.2 198.9 1044.5 204.9 1045.8 209.9 M1075.9 187.9 1077.7 194.9 1076.3 198.9 M1076.3 198.9 1074.6 204.9 1075.9 209.9 M1106 187.9 1107.8 194.9 1106.4 198.9 M1106.4 198.9 1104.7 204.9 1106 209.9 M1136.1 187.9 1137.9 194.9 1136.5 198.9 M1136.5 198.9 1134.8 204.9 1136.1 209.9 M955.6 209.9 957.4 216.9 956 220.9 M956 220.9 954.3 226.9 955.6 231.9 M985.7 209.9 987.5 216.9 986.1 220.9 M986.1 220.9 984.4 226.9 985.7 231.9 M1015.8 209.9 1017.6 216.9 1016.2 220.9 M1016.2 220.9 1014.5 226.9 1015.8 231.9 M1045.8 209.9 1047.6 216.9 1046.2 220.9 M1046.2 220.9 1044.5 226.9 1045.8 231.9 M1075.9 209.9 1077.7 216.9 1076.3 220.9 M1076.3 220.9 1074.6 226.9 1075.9 231.9 M1106 209.9 1107.8 216.9 1106.4 220.9 M1106.4 220.9 1104.7 226.9 1106 231.9 M1136.1 209.9 1137.9 216.9 1136.5 220.9 M1136.5 220.9 1134.8 226.9 1136.1 231.9 M1166.2 209.9 1168 216.9 1166.6 220.9 M1166.6 220.9 1164.9 226.9 1166.2 231.9 M955.6 232 957.4 239 956 243 M956 243 954.3 249 955.6 254 M985.7 232 987.5 239 986.1 243 M986.1 243 984.4 249 985.7 254 M1015.8 232 1017.6 239 1016.2 243 M1016.2 243 1014.5 249 1015.8 254 M1045.8 232 1047.6 239 1046.2 243 M1046.2 243 1044.5 249 1045.8 254 M1075.9 232 1077.7 239 1076.3 243 M1076.3 243 1074.6 249 1075.9 254 M1106 232 1107.8 239 1106.4 243 M1106.4 243 1104.7 249 1106 254 M1136.1 232 1137.9 239 1136.5 243 M1136.5 243 1134.8 249 1136.1 254 M1166.2 232 1168 239 1166.6 243 M1166.6 243 1164.9 249 1166.2 254 M1196.2 232 1198 239 1196.6 243 M1196.6 243 1194.9 249 1196.2 254 M955.6 254 957.4 261 956 265 M956 265 954.3 271 955.6 276 M985.7 254 987.5 261 986.1 265 M986.1 265 984.4 271 985.7 276 M1015.8 254 1017.6 261 1016.2 265 M1016.2 265 1014.5 271 1015.8 276 M1045.8 254 1047.6 261 1046.2 265 M1046.2 265 1044.5 271 1045.8 276 M1075.9 254 1077.7 261 1076.3 265 M1076.3 265 1074.6 271 1075.9 276 M1106 254 1107.8 261 1106.4 265 M1106.4 265 1104.7 271 1106 276 M1136.1 254 1137.9 261 1136.5 265 M1136.5 265 1134.8 271 1136.1 276 M1166.2 254 1168 261 1166.6 265 M1166.6 265 1164.9 271 1166.2 276 M1196.2 254 1198 261 1196.6 265 M1196.6 265 1194.9 271 1196.2 276 M1226.3 254 1228.1 261 1226.7 265 M1226.7 265 1225 271 1226.3 276 M955.6 276 957.2 281.5 956.6 283.4 954.2 291.5 954.4 294 955.6 298 M985.7 276 987.5 283 986.1 287 M986.1 287 984.4 293 985.7 298 M1015.8 276 1017.4 281.5 1016.8 283.4 1014.4 291.5 1014.6 294 1015.8 298 M1045.8 276 1047.6 283 1046.2 287 M1046.2 287 1044.5 293 1045.8 298 M1075.9 276 1077.5 281.5 1076.9 283.4 1074.5 291.5 1074.7 294 1075.9 298 M1106 276 1107.8 283 1106.4 287 M1106.4 287 1104.7 293 1106 298 M1136.1 276 1137.7 281.5 1137.1 283.4 1134.7 291.5 1134.9 294 1136.1 298 M1166.2 276 1168 283 1166.6 287 M1166.6 287 1164.9 293 1166.2 298 M1196.2 276 1198 283 1196.6 287 M1196.6 287 1194.9 293 1196.2 298 M1226.3 276 1228.1 283 1226.7 287 M1226.7 287 1225 293 1226.3 298 M1256.4 276 1258.2 283 1256.8 287 M1256.8 287 1255.1 293 1256.4 298 M955.6 298 957.4 305 956 309 M956 309 954.3 315 955.6 320 M985.7 298 987.5 305 986.1 309 M986.1 309 984.4 315 985.7 320 M1015.8 298 1017.6 305 1016.2 309 M1016.2 309 1014.5 315 1015.8 320 M1045.8 298 1047.6 305 1046.2 309 M1046.2 309 1044.5 315 1045.8 320 M1075.9 298 1077.7 305 1076.3 309 M1076.3 309 1074.6 315 1075.9 320 M1106 298 1107.8 305 1106.4 309 M1106.4 309 1104.7 315 1106 320 M1136.1 298 1137.9 305 1136.5 309 M1136.5 309 1134.8 315 1136.1 320 M1166.2 298 1168 305 1166.6 309 M1166.6 309 1164.9 315 1166.2 320 M1196.2 298 1198 305 1196.6 309 M1196.6 309 1194.9 315 1196.2 320 M1226.3 298 1228.1 305 1226.7 309 M1226.7 309 1225 315 1226.3 320 M1256.4 298 1258.2 305 1256.8 309 M1256.8 309 1255.1 315 1256.4 320 M1286.5 298 1288.3 305 1286.9 309 M1286.9 309 1285.2 315 1286.5 320 M955.6 320 957.4 327 956 331 M956 331 954.3 337 955.6 342 M985.7 320 987.5 327 986.1 331 M986.1 331 984.4 337 985.7 342 M1015.8 320 1017.6 327 1016.2 331 M1016.2 331 1014.5 337 1015.8 342 M1045.8 320 1047.6 327 1046.2 331 M1046.2 331 1044.5 337 1045.8 342 M1075.9 320 1077.7 327 1076.3 331 M1076.3 331 1074.6 337 1075.9 342 M1106 320 1107.8 327 1106.4 331 M1106.4 331 1104.7 337 1106 342 M1136.1 320 1137.9 327 1136.5 331 M1136.5 331 1134.8 337 1136.1 342 M1166.2 320 1168 327 1166.6 331 M1166.6 331 1164.9 337 1166.2 342 M1196.2 320 1198 327 1196.6 331 M1196.6 331 1194.9 337 1196.2 342 M1226.3 320 1228.1 327 1226.7 331 M1226.7 331 1225 337 1226.3 342 M1256.4 320 1258.2 327 1256.8 331 M1256.8 331 1255.1 337 1256.4 342 M1286.5 320 1288.3 327 1286.9 331 M1286.9 331 1285.2 337 1286.5 342 M1316.6 320 1318.4 327 1317 331 M1317 331 1315.3 337 1316.6 342 M955.6 342.1 957.4 349.1 956 353.1 M956 353.1 954.3 359.1 955.6 364.1 M985.7 342.1 987.5 349.1 986.1 353.1 M986.1 353.1 984.4 359.1 985.7 364.1 M1015.8 342.1 1017.6 349.1 1016.2 353.1 M1016.2 353.1 1014.5 359.1 1015.8 364.1 M1045.8 342.1 1047.6 349.1 1046.2 353.1 M1046.2 353.1 1044.5 359.1 1045.8 364.1 M1075.9 342.1 1077.7 349.1 1076.3 353.1 M1076.3 353.1 1074.6 359.1 1075.9 364.1 M1106 342.1 1107.8 349.1 1106.4 353.1 M1106.4 353.1 1104.7 359.1 1106 364.1 M1136.1 342.1 1137.9 349.1 1136.5 353.1 M1136.5 353.1 1134.8 359.1 1136.1 364.1 M1166.2 342.1 1168 349.1 1166.6 353.1 M1166.6 353.1 1164.9 359.1 1166.2 364.1 M1196.2 342.1 1198 349.1 1196.6 353.1 M1196.6 353.1 1194.9 359.1 1196.2 364.1 M1226.3 342.1 1228.1 349.1 1226.7 353.1 M1226.7 353.1 1225 359.1 1226.3 364.1 M1256.4 342.1 1258.2 349.1 1256.8 353.1 M1256.8 353.1 1255.1 359.1 1256.4 364.1 M1286.5 342.1 1288.3 349.1 1286.9 353.1 M1286.9 353.1 1285.2 359.1 1286.5 364.1 M1316.6 342.1 1318.4 349.1 1317 353.1 M1317 353.1 1315.3 359.1 1316.6 364.1 M1346.6 342.1 1348.4 349.1 1347 353.1 M1347 353.1 1345.3 359.1 1346.6 364.1 M955.6 364.1 957.4 371.1 956 375.1 M956 375.1 954.3 381.1 955.6 386.1 M985.7 364.1 987.5 371.1 986.1 375.1 M986.1 375.1 984.4 381.1 985.7 386.1 M1015.8 364.1 1017.6 371.1 1016.2 375.1 M1016.2 375.1 1014.5 381.1 1015.8 386.1 M1045.8 364.1 1047.6 371.1 1046.2 375.1 M1046.2 375.1 1044.5 381.1 1045.8 386.1 M1075.9 364.1 1077.7 371.1 1076.3 375.1 M1076.3 375.1 1074.6 381.1 1075.9 386.1 M1106 364.1 1107.8 371.1 1106.4 375.1 M1106.4 375.1 1104.7 381.1 1106 386.1 M1136.1 364.1 1137.9 371.1 1136.5 375.1 M1136.5 375.1 1134.8 381.1 1136.1 386.1 M1166.2 364.1 1168 371.1 1166.6 375.1 M1166.6 375.1 1164.9 381.1 1166.2 386.1 M1196.2 364.1 1198 371.1 1196.6 375.1 M1196.6 375.1 1194.9 381.1 1196.2 386.1 M1226.3 364.1 1228.1 371.1 1226.7 375.1 M1226.7 375.1 1225 381.1 1226.3 386.1 M1256.4 364.1 1258.2 371.1 1256.8 375.1 M1256.8 375.1 1255.1 381.1 1256.4 386.1 M1286.5 364.1 1288.3 371.1 1286.9 375.1 M1286.9 375.1 1285.2 381.1 1286.5 386.1 M1316.6 364.1 1318.4 371.1 1317 375.1 M1317 375.1 1315.3 381.1 1316.6 386.1 M1346.6 364.1 1348.4 371.1 1347 375.1 M1347 375.1 1345.3 381.1 1346.6 386.1 M1376.7 364.1 1378.5 371.1 1377.1 375.1 M1377.1 375.1 1375.4 381.1 1376.7 386.1 M955.6 386.1 957.4 393.1 956 397.1 M956 397.1 954.3 403.1 955.6 408.1 M985.7 386.1 987.5 393.1 986.1 397.1 M986.1 397.1 984.4 403.1 985.7 408.1 M1015.8 386.1 1017.6 393.1 1016.2 397.1 M1016.2 397.1 1014.5 403.1 1015.8 408.1 M1045.8 386.1 1047.6 393.1 1046.2 397.1 M1046.2 397.1 1044.5 403.1 1045.8 408.1 M1075.9 386.1 1077.7 393.1 1076.3 397.1 M1076.3 397.1 1074.6 403.1 1075.9 408.1 M1106 386.1 1107.8 393.1 1106.4 397.1 M1106.4 397.1 1104.7 403.1 1106 408.1 M1136.1 386.1 1137.9 393.1 1136.5 397.1 M1136.5 397.1 1134.8 403.1 1136.1 408.1 M1166.2 386.1 1168 393.1 1166.6 397.1 M1166.6 397.1 1164.9 403.1 1166.2 408.1 M1196.2 386.1 1198 393.1 1196.6 397.1 M1196.6 397.1 1194.9 403.1 1196.2 408.1 M1226.3 386.1 1228.1 393.1 1226.7 397.1 M1226.7 397.1 1225 403.1 1226.3 408.1 M1256.4 386.1 1258.2 393.1 1256.8 397.1 M1256.8 397.1 1255.1 403.1 1256.4 408.1 M1286.5 386.1 1288.3 393.1 1286.9 397.1 M1286.9 397.1 1285.2 403.1 1286.5 408.1 M1316.6 386.1 1318.4 393.1 1317 397.1 M1317 397.1 1315.3 403.1 1316.6 408.1 M1346.6 386.1 1348.4 393.1 1347 397.1 M1347 397.1 1345.3 403.1 1346.6 408.1 M1376.7 386.1 1378.5 393.1 1377.1 397.1 M1377.1 397.1 1375.4 403.1 1376.7 408.1 M1406.8 386.1 1408.6 393.1 1407.2 397.1 M1407.2 397.1 1405.5 403.1 1406.8 408.1 M955.6 408.1 957.4 415.1 956 419.1 M956 419.1 954.3 425.1 955.6 430.1 M985.7 408.1 987.5 415.1 986.1 419.1 M986.1 419.1 984.4 425.1 985.7 430.1 M1015.8 408.1 1017.6 415.1 1016.2 419.1 M1016.2 419.1 1014.5 425.1 1015.8 430.1 M1045.8 408.1 1047.6 415.1 1046.2 419.1 M1046.2 419.1 1044.5 425.1 1045.8 430.1 M1075.9 408.1 1077.7 415.1 1076.3 419.1 M1076.3 419.1 1074.6 425.1 1075.9 430.1 M1106 408.1 1107.8 415.1 1106.4 419.1 M1106.4 419.1 1104.7 425.1 1106 430.1 M1136.1 408.1 1137.9 415.1 1136.5 419.1 M1136.5 419.1 1134.8 425.1 1136.1 430.1 M1166.2 408.1 1168 415.1 1166.6 419.1 M1166.6 419.1 1164.9 425.1 1166.2 430.1 M1196.2 408.1 1198 415.1 1196.6 419.1 M1196.6 419.1 1194.9 425.1 1196.2 430.1 M1226.3 408.1 1228.1 415.1 1226.7 419.1 M1226.7 419.1 1225 425.1 1226.3 430.1 M1256.4 408.1 1258.2 415.1 1256.8 419.1 M1256.8 419.1 1255.1 425.1 1256.4 430.1 M1286.5 408.1 1288.3 415.1 1286.9 419.1 M1286.9 419.1 1285.2 425.1 1286.5 430.1 M1316.6 408.1 1318.4 415.1 1317 419.1 M1317 419.1 1315.3 425.1 1316.6 430.1 M1346.6 408.1 1348.4 415.1 1347 419.1 M1347 419.1 1345.3 425.1 1346.6 430.1 M1376.7 408.1 1378.5 415.1 1377.1 419.1 M1377.1 419.1 1375.4 425.1 1376.7 430.1 M1406.8 408.1 1408.6 415.1 1407.2 419.1 M1407.2 419.1 1405.5 425.1 1406.8 430.1 M1436.9 408.1 1438.7 415.1 1437.3 419.1 M1437.3 419.1 1435.6 425.1 1436.9 430.1 M955.6 430.1 957.4 437.1 956 441.1 M956 441.1 954.3 447.1 955.6 452.1 M985.7 430.1 987.5 437.1 986.1 441.1 M986.1 441.1 984.4 447.1 985.7 452.1 M1015.8 430.1 1017.6 437.1 1016.2 441.1 M1016.2 441.1 1014.5 447.1 1015.8 452.1 M1045.8 430.1 1047.6 437.1 1046.2 441.1 M1046.2 441.1 1044.5 447.1 1045.8 452.1 M1075.9 430.1 1077.7 437.1 1076.3 441.1 M1076.3 441.1 1074.6 447.1 1075.9 452.1 M1106 430.1 1107.8 437.1 1106.4 441.1 M1106.4 441.1 1104.7 447.1 1106 452.1 M1136.1 430.1 1137.9 437.1 1136.5 441.1 M1136.5 441.1 1134.8 447.1 1136.1 452.1 M1166.2 430.1 1168 437.1 1166.6 441.1 M1166.6 441.1 1164.9 447.1 1166.2 452.1 M1196.2 430.1 1198 437.1 1196.6 441.1 M1196.6 441.1 1194.9 447.1 1196.2 452.1 M1226.3 430.1 1228.1 437.1 1226.7 441.1 M1226.7 441.1 1225 447.1 1226.3 452.1 M1256.4 430.1 1258.2 437.1 1256.8 441.1 M1256.8 441.1 1255.1 447.1 1256.4 452.1 M1286.5 430.1 1288.3 437.1 1286.9 441.1 M1286.9 441.1 1285.2 447.1 1286.5 452.1 M1316.6 430.1 1318.4 437.1 1317 441.1 M1317 441.1 1315.3 447.1 1316.6 452.1 M1346.6 430.1 1348.4 437.1 1347 441.1 M1347 441.1 1345.3 447.1 1346.6 452.1 M1376.7 430.1 1378.5 437.1 1377.1 441.1 M1377.1 441.1 1375.4 447.1 1376.7 452.1 M1406.8 430.1 1408.6 437.1 1407.2 441.1 M1407.2 441.1 1405.5 447.1 1406.8 452.1 M1436.9 430.1 1438.7 437.1 1437.3 441.1 M1437.3 441.1 1435.6 447.1 1436.9 452.1 M1467 430.1 1468.8 437.1 1467.4 441.1 M1467.4 441.1 1465.7 447.1 1467 452.1 M955.6 452.2 957.4 459.2 956 463.2 M956 463.2 954.3 469.2 955.6 474.2 M985.7 452.2 987.5 459.2 986.1 463.2 M986.1 463.2 984.4 469.2 985.7 474.2 M1015.8 452.2 1017.6 459.2 1016.2 463.2 M1016.2 463.2 1014.5 469.2 1015.8 474.2 M1045.8 452.2 1047.6 459.2 1046.2 463.2 M1046.2 463.2 1044.5 469.2 1045.8 474.2 M1075.9 452.2 1077.7 459.2 1076.3 463.2 M1076.3 463.2 1074.6 469.2 1075.9 474.2 M1106 452.2 1107.8 459.2 1106.4 463.2 M1106.4 463.2 1104.7 469.2 1106 474.2 M1136.1 452.2 1137.9 459.2 1136.5 463.2 M1136.5 463.2 1134.8 469.2 1136.1 474.2 M1166.2 452.2 1168 459.2 1166.6 463.2 M1166.6 463.2 1164.9 469.2 1166.2 474.2 M1196.2 452.2 1198 459.2 1196.6 463.2 M1196.6 463.2 1194.9 469.2 1196.2 474.2 M1226.3 452.2 1228.1 459.2 1226.7 463.2 M1226.7 463.2 1225 469.2 1226.3 474.2 M1256.4 452.2 1258.2 459.2 1256.8 463.2 M1256.8 463.2 1255.1 469.2 1256.4 474.2 M1286.5 452.2 1288.3 459.2 1286.9 463.2 M1286.9 463.2 1285.2 469.2 1286.5 474.2 M1316.6 452.2 1318.4 459.2 1317 463.2 M1317 463.2 1315.3 469.2 1316.6 474.2 M1346.6 452.2 1348.4 459.2 1347 463.2 M1347 463.2 1345.3 469.2 1346.6 474.2 M1376.7 452.2 1378.5 459.2 1377.1 463.2 M1377.1 463.2 1375.4 469.2 1376.7 474.2 M1406.8 452.2 1408.6 459.2 1407.2 463.2 M1407.2 463.2 1405.5 469.2 1406.8 474.2 M1436.9 452.2 1438.7 459.2 1437.3 463.2 M1437.3 463.2 1435.6 469.2 1436.9 474.2 M1467 452.2 1468.8 459.2 1467.4 463.2 M1467.4 463.2 1465.7 469.2 1467 474.2 M1497 452.2 1498.8 459.2 1497.4 463.2 M1497.4 463.2 1495.7 469.2 1497 474.2 M955.6 474.2 957.2 479.7 956.6 481.6 954.2 489.7 954.4 492.2 955.6 496.2 M985.7 474.2 987.5 481.2 986.1 485.2 M986.1 485.2 984.4 491.2 985.7 496.2 M1015.8 474.2 1017.6 481.2 1016.2 485.2 M1016.2 485.2 1014.5 491.2 1015.8 496.2 M1045.8 474.2 1047.6 481.2 1046.2 485.2 M1046.2 485.2 1044.5 491.2 1045.8 496.2 M1075.9 474.2 1077.5 479.7 1076.9 481.6 1074.5 489.7 1074.7 492.2 1075.9 496.2 M1106 474.2 1107.8 481.2 1106.4 485.2 M1106.4 485.2 1104.7 491.2 1106 496.2 M1136.1 474.2 1137.9 481.2 1136.5 485.2 M1136.5 485.2 1134.8 491.2 1136.1 496.2 M1166.2 474.2 1168 481.2 1166.6 485.2 M1166.6 485.2 1164.9 491.2 1166.2 496.2 M1196.2 474.2 1197.8 479.7 1197.2 481.6 1194.8 489.7 1195 492.2 1196.2 496.2 M1226.3 474.2 1228.1 481.2 1226.7 485.2 M1226.7 485.2 1225 491.2 1226.3 496.2 M1256.4 474.2 1258.2 481.2 1256.8 485.2 M1256.8 485.2 1255.1 491.2 1256.4 496.2 M1286.5 474.2 1288.3 481.2 1286.9 485.2 M1286.9 485.2 1285.2 491.2 1286.5 496.2 M1316.6 474.2 1318.2 479.7 1317.6 481.6 1315.2 489.7 1315.4 492.2 1316.6 496.2 M1346.6 474.2 1348.4 481.2 1347 485.2 M1347 485.2 1345.3 491.2 1346.6 496.2 M1376.7 474.2 1378.5 481.2 1377.1 485.2 M1377.1 485.2 1375.4 491.2 1376.7 496.2 M1406.8 474.2 1408.6 481.2 1407.2 485.2 M1407.2 485.2 1405.5 491.2 1406.8 496.2 M1436.9 474.2 1438.5 479.7 1437.9 481.6 1435.5 489.7 1435.7 492.2 1436.9 496.2 M1467 474.2 1468.8 481.2 1467.4 485.2 M1467.4 485.2 1465.7 491.2 1467 496.2 M1497 474.2 1498.8 481.2 1497.4 485.2 M1497.4 485.2 1495.7 491.2 1497 496.2 M1527.1 474.2 1528.9 481.2 1527.5 485.2 M1527.5 485.2 1525.8 491.2 1527.1 496.2 M955.6 496.2 957.4 503.2 956 507.2 M956 507.2 954.3 513.2 955.6 518.2 M985.7 496.2 987.5 503.2 986.1 507.2 M986.1 507.2 984.4 513.2 985.7 518.2 M1015.8 496.2 1017.6 503.2 1016.2 507.2 M1016.2 507.2 1014.5 513.2 1015.8 518.2 M1045.8 496.2 1047.6 503.2 1046.2 507.2 M1046.2 507.2 1044.5 513.2 1045.8 518.2 M1075.9 496.2 1077.7 503.2 1076.3 507.2 M1076.3 507.2 1074.6 513.2 1075.9 518.2 M1106 496.2 1107.8 503.2 1106.4 507.2 M1106.4 507.2 1104.7 513.2 1106 518.2 M1136.1 496.2 1137.9 503.2 1136.5 507.2 M1136.5 507.2 1134.8 513.2 1136.1 518.2 M1166.2 496.2 1168 503.2 1166.6 507.2 M1166.6 507.2 1164.9 513.2 1166.2 518.2 M1196.2 496.2 1198 503.2 1196.6 507.2 M1196.6 507.2 1194.9 513.2 1196.2 518.2 M1226.3 496.2 1228.1 503.2 1226.7 507.2 M1226.7 507.2 1225 513.2 1226.3 518.2 M1256.4 496.2 1258.2 503.2 1256.8 507.2 M1256.8 507.2 1255.1 513.2 1256.4 518.2 M1286.5 496.2 1288.3 503.2 1286.9 507.2 M1286.9 507.2 1285.2 513.2 1286.5 518.2 M1316.6 496.2 1318.4 503.2 1317 507.2 M1317 507.2 1315.3 513.2 1316.6 518.2 M1346.6 496.2 1348.4 503.2 1347 507.2 M1347 507.2 1345.3 513.2 1346.6 518.2 M1376.7 496.2 1378.5 503.2 1377.1 507.2 M1377.1 507.2 1375.4 513.2 1376.7 518.2 M1406.8 496.2 1408.6 503.2 1407.2 507.2 M1407.2 507.2 1405.5 513.2 1406.8 518.2 M1436.9 496.2 1438.7 503.2 1437.3 507.2 M1437.3 507.2 1435.6 513.2 1436.9 518.2 M1467 496.2 1468.8 503.2 1467.4 507.2 M1467.4 507.2 1465.7 513.2 1467 518.2 M1497 496.2 1498.8 503.2 1497.4 507.2 M1497.4 507.2 1495.7 513.2 1497 518.2 M1527.1 496.2 1528.9 503.2 1527.5 507.2 M1527.5 507.2 1525.8 513.2 1527.1 518.2 M1557.2 496.2 1559 503.2 1557.6 507.2 M1557.6 507.2 1555.9 513.2 1557.2 518.2 M955.6 518.2 957.4 525.2 956 529.2 M956 529.2 954.3 535.2 955.6 540.2 M985.7 518.2 987.5 525.2 986.1 529.2 M986.1 529.2 984.4 535.2 985.7 540.2 M1015.8 518.2 1017.6 525.2 1016.2 529.2 M1016.2 529.2 1014.5 535.2 1015.8 540.2 M1045.8 518.2 1047.6 525.2 1046.2 529.2 M1046.2 529.2 1044.5 535.2 1045.8 540.2 M1075.9 518.2 1077.7 525.2 1076.3 529.2 M1076.3 529.2 1074.6 535.2 1075.9 540.2 M1106 518.2 1107.8 525.2 1106.4 529.2 M1106.4 529.2 1104.7 535.2 1106 540.2 M1136.1 518.2 1137.9 525.2 1136.5 529.2 M1136.5 529.2 1134.8 535.2 1136.1 540.2 M1166.2 518.2 1168 525.2 1166.6 529.2 M1166.6 529.2 1164.9 535.2 1166.2 540.2 M1196.2 518.2 1198 525.2 1196.6 529.2 M1196.6 529.2 1194.9 535.2 1196.2 540.2 M1226.3 518.2 1228.1 525.2 1226.7 529.2 M1226.7 529.2 1225 535.2 1226.3 540.2 M1256.4 518.2 1258.2 525.2 1256.8 529.2 M1256.8 529.2 1255.1 535.2 1256.4 540.2 M1286.5 518.2 1288.3 525.2 1286.9 529.2 M1286.9 529.2 1285.2 535.2 1286.5 540.2 M1316.6 518.2 1318.4 525.2 1317 529.2 M1317 529.2 1315.3 535.2 1316.6 540.2 M1346.6 518.2 1348.4 525.2 1347 529.2 M1347 529.2 1345.3 535.2 1346.6 540.2 M1376.7 518.2 1378.5 525.2 1377.1 529.2 M1377.1 529.2 1375.4 535.2 1376.7 540.2 M1406.8 518.2 1408.6 525.2 1407.2 529.2 M1407.2 529.2 1405.5 535.2 1406.8 540.2 M1436.9 518.2 1438.7 525.2 1437.3 529.2 M1437.3 529.2 1435.6 535.2 1436.9 540.2 M1467 518.2 1468.8 525.2 1467.4 529.2 M1467.4 529.2 1465.7 535.2 1467 540.2 M1497 518.2 1498.8 525.2 1497.4 529.2 M1497.4 529.2 1495.7 535.2 1497 540.2 M1527.1 518.2 1528.9 525.2 1527.5 529.2 M1527.5 529.2 1525.8 535.2 1527.1 540.2 M1557.2 518.2 1559 525.2 1557.6 529.2 M1557.6 529.2 1555.9 535.2 1557.2 540.2 M1587.3 518.2 1589.1 525.2 1587.7 529.2 M1587.7 529.2 1586 535.2 1587.3 540.2 M955.6 540.2 957.2 545.7 956.6 547.6 954.2 555.7 954.4 558.2 955.6 562.2 M985.7 540.2 987.3 545.7 986.7 547.6 984.3 555.7 984.5 558.2 985.7 562.2 M1015.8 540.2 1017.6 547.2 1016.2 551.2 M1016.2 551.2 1014.5 557.2 1015.8 562.2 M1045.8 540.2 1047.6 547.2 1046.2 551.2 M1046.2 551.2 1044.5 557.2 1045.8 562.2 M1075.9 540.2 1077.5 545.7 1076.9 547.6 1074.5 555.7 1074.7 558.2 1075.9 562.2 M1106 540.2 1107.6 545.7 1107 547.6 1104.6 555.7 1104.8 558.2 1106 562.2 M1136.1 540.2 1137.9 547.2 1136.5 551.2 M1136.5 551.2 1134.8 557.2 1136.1 562.2 M1166.2 540.2 1168 547.2 1166.6 551.2 M1166.6 551.2 1164.9 557.2 1166.2 562.2 M1196.2 540.2 1197.8 545.7 1197.2 547.6 1194.8 555.7 1195 558.2 1196.2 562.2 M1226.3 540.2 1227.9 545.7 1227.3 547.6 1224.9 555.7 1225.1 558.2 1226.3 562.2 M1256.4 540.2 1258.2 547.2 1256.8 551.2 M1256.8 551.2 1255.1 557.2 1256.4 562.2 M1286.5 540.2 1288.3 547.2 1286.9 551.2 M1286.9 551.2 1285.2 557.2 1286.5 562.2 M1316.6 540.2 1318.2 545.7 1317.6 547.6 1315.2 555.7 1315.4 558.2 1316.6 562.2 M1346.6 540.2 1348.2 545.7 1347.6 547.6 1345.2 555.7 1345.4 558.2 1346.6 562.2 M1376.7 540.2 1378.5 547.2 1377.1 551.2 M1377.1 551.2 1375.4 557.2 1376.7 562.2 M1406.8 540.2 1408.6 547.2 1407.2 551.2 M1407.2 551.2 1405.5 557.2 1406.8 562.2 M1436.9 540.2 1438.5 545.7 1437.9 547.6 1435.5 555.7 1435.7 558.2 1436.9 562.2 M1467 540.2 1468.6 545.7 1468 547.6 1465.6 555.7 1465.8 558.2 1467 562.2 M1497 540.2 1498.8 547.2 1497.4 551.2 M1497.4 551.2 1495.7 557.2 1497 562.2 M1527.1 540.2 1528.9 547.2 1527.5 551.2 M1527.5 551.2 1525.8 557.2 1527.1 562.2 M1557.2 540.2 1558.8 545.7 1558.2 547.6 1555.8 555.7 1556 558.2 1557.2 562.2 M1587.3 540.2 1588.9 545.7 1588.3 547.6 1585.9 555.7 1586.1 558.2 1587.3 562.2 M1617.4 540.2 1619.2 547.2 1617.8 551.2 M1617.8 551.2 1616.1 557.2 1617.4 562.2 M955.6 562.3 957.4 569.3 956 573.3 M956 573.3 954.3 579.3 955.6 584.3 M985.7 562.3 987.5 569.3 986.1 573.3 M986.1 573.3 984.4 579.3 985.7 584.3 M1015.8 562.3 1017.6 569.3 1016.2 573.3 M1016.2 573.3 1014.5 579.3 1015.8 584.3 M1045.8 562.3 1047.6 569.3 1046.2 573.3 M1046.2 573.3 1044.5 579.3 1045.8 584.3 M1075.9 562.3 1077.7 569.3 1076.3 573.3 M1076.3 573.3 1074.6 579.3 1075.9 584.3 M1106 562.3 1107.8 569.3 1106.4 573.3 M1106.4 573.3 1104.7 579.3 1106 584.3 M1136.1 562.3 1137.9 569.3 1136.5 573.3 M1136.5 573.3 1134.8 579.3 1136.1 584.3 M1166.2 562.3 1168 569.3 1166.6 573.3 M1166.6 573.3 1164.9 579.3 1166.2 584.3 M1196.2 562.3 1198 569.3 1196.6 573.3 M1196.6 573.3 1194.9 579.3 1196.2 584.3 M1226.3 562.3 1228.1 569.3 1226.7 573.3 M1226.7 573.3 1225 579.3 1226.3 584.3 M1256.4 562.3 1258.2 569.3 1256.8 573.3 M1256.8 573.3 1255.1 579.3 1256.4 584.3 M1286.5 562.3 1288.3 569.3 1286.9 573.3 M1286.9 573.3 1285.2 579.3 1286.5 584.3 M1316.6 562.3 1318.4 569.3 1317 573.3 M1317 573.3 1315.3 579.3 1316.6 584.3 M1346.6 562.3 1348.4 569.3 1347 573.3 M1347 573.3 1345.3 579.3 1346.6 584.3 M1376.7 562.3 1378.5 569.3 1377.1 573.3 M1377.1 573.3 1375.4 579.3 1376.7 584.3 M1406.8 562.3 1408.6 569.3 1407.2 573.3 M1407.2 573.3 1405.5 579.3 1406.8 584.3 M1436.9 562.3 1438.7 569.3 1437.3 573.3 M1437.3 573.3 1435.6 579.3 1436.9 584.3 M1467 562.3 1468.8 569.3 1467.4 573.3 M1467.4 573.3 1465.7 579.3 1467 584.3 M1497 562.3 1498.8 569.3 1497.4 573.3 M1497.4 573.3 1495.7 579.3 1497 584.3 M1527.1 562.3 1528.9 569.3 1527.5 573.3 M1527.5 573.3 1525.8 579.3 1527.1 584.3 M1557.2 562.3 1559 569.3 1557.6 573.3 M1557.6 573.3 1555.9 579.3 1557.2 584.3 M1587.3 562.3 1589.1 569.3 1587.7 573.3 M1587.7 573.3 1586 579.3 1587.3 584.3 M1617.4 562.3 1619.2 569.3 1617.8 573.3 M1617.8 573.3 1616.1 579.3 1617.4 584.3 M1647.4 562.3 1649.2 569.3 1647.8 573.3 M1647.8 573.3 1646.1 579.3 1647.4 584.3 M955.6 584.3 957.4 591.3 956 595.3 M956 595.3 955.7 601.3 955.1 605.6 M985.7 584.3 987.5 591.3 986.1 595.3 M986.1 595.3 985.8 601.3 985.2 605.6 M1015.8 584.3 1017.6 591.3 1016.2 595.3 M1016.2 595.3 1015.9 601.3 1015.3 605.6 M1045.8 584.3 1047.6 591.3 1046.2 595.3 M1046.2 595.3 1045.9 601.3 1045.3 605.6 M1075.9 584.3 1077.7 591.3 1076.3 595.3 M1076.3 595.3 1076 601.3 1075.4 605.6 M1106 584.3 1107.8 591.3 1106.4 595.3 M1106.4 595.3 1106.1 601.3 1105.5 605.6 M1136.1 584.3 1137.9 591.3 1136.5 595.3 M1136.5 595.3 1136.2 601.3 1135.6 605.6 M1166.2 584.3 1168 591.3 1166.6 595.3 M1166.6 595.3 1166.3 601.3 1165.7 605.6 M1196.2 584.3 1198 591.3 1196.6 595.3 M1196.6 595.3 1196.3 601.3 1195.7 605.6 M1226.3 584.3 1228.1 591.3 1226.7 595.3 M1226.7 595.3 1226.4 601.3 1225.8 605.6 M1256.4 584.3 1258.2 591.3 1256.8 595.3 M1256.8 595.3 1256.5 601.3 1255.9 605.6 M1286.5 584.3 1288.3 591.3 1286.9 595.3 M1286.9 595.3 1286.6 601.3 1286 605.6 M1316.6 584.3 1318.4 591.3 1317 595.3 M1317 595.3 1316.7 601.3 1316.1 605.6 M1346.6 584.3 1348.4 591.3 1347 595.3 M1347 595.3 1346.7 601.3 1346.1 605.6 M1376.7 584.3 1378.5 591.3 1377.1 595.3 M1377.1 595.3 1376.8 601.3 1376.2 605.6 M1406.8 584.3 1408.6 591.3 1407.2 595.3 M1407.2 595.3 1406.9 601.3 1406.3 605.6 M1436.9 584.3 1438.7 591.3 1437.3 595.3 M1437.3 595.3 1437 601.3 1436.4 605.6 M1467 584.3 1468.8 591.3 1467.4 595.3 M1467.4 595.3 1467.1 601.3 1466.5 605.6 M1497 584.3 1498.8 591.3 1497.4 595.3 M1497.4 595.3 1497.1 601.3 1496.5 605.6 M1527.1 584.3 1528.9 591.3 1527.5 595.3 M1527.5 595.3 1527.2 601.3 1526.6 605.6 M1557.2 584.3 1559 591.3 1557.6 595.3 M1557.6 595.3 1557.3 601.3 1556.7 605.6 M1587.3 584.3 1589.1 591.3 1587.7 595.3 M1587.7 595.3 1587.4 601.3 1586.8 605.6 M1617.4 584.3 1619.2 591.3 1617.8 595.3 M1617.8 595.3 1617.5 601.3 1616.9 605.6 M1647.4 584.3 1649.2 591.3 1647.8 595.3 M1647.8 595.3 1647.5 601.3 1646.9 605.6 M1677.5 584.3 1679.3 591.3 1677.9 595.3 M1677.9 595.3 1677.6 601.3 1677 605.6" fill="none" stroke="rgb(255,140,0)" stroke-opacity="0.75" stroke-width="2.0" stroke-linejoin="round" stroke-linecap="round"/>
<path d="M942.2 55.8 952.6 65.8 960.8 68.2 972.2 77.8 M952.6 65.8 954.2 71.3 M956.6 63.2 960.8 68.2 M942.2 77.8 950.9 86.8 956 88.8 M956 88.8 963.5 90.8 972.2 99.8 M972.3 77.8 981 86.8 986.1 88.8 M986.1 88.8 993.6 90.8 1002.3 99.8 M942.2 99.8 950.9 108.8 956 110.8 M956 110.8 963.5 112.8 972.2 121.8 M972.3 99.8 981 108.8 986.1 110.8 M986.1 110.8 993.6 112.8 1002.3 121.8 M1002.4 99.8 1011.1 108.8 1016.2 110.8 M1016.2 110.8 1023.7 112.8 1032.4 121.8 M942.2 121.9 950.9 130.9 956 132.9 M956 132.9 963.5 134.9 972.2 143.9 M972.3 121.9 981 130.9 986.1 132.9 M986.1 132.9 993.6 134.9 1002.3 143.9 M1002.4 121.9 1011.1 130.9 1016.2 132.9 M1016.2 132.9 1023.7 134.9 1032.4 143.9 M1032.4 121.9 1041.1 130.9 1046.2 132.9 M1046.2 132.9 1053.7 134.9 1062.4 143.9 M942.2 143.9 950.9 152.9 956 154.9 M956 154.9 963.5 156.9 972.2 165.9 M972.3 143.9 981 152.9 986.1 154.9 M986.1 154.9 993.6 156.9 1002.3 165.9 M1002.4 143.9 1011.1 152.9 1016.2 154.9 M1016.2 154.9 1023.7 156.9 1032.4 165.9 M1032.4 143.9 1041.1 152.9 1046.2 154.9 M1046.2 154.9 1053.7 156.9 1062.4 165.9 M1062.5 143.9 1071.2 152.9 1076.3 154.9 M1076.3 154.9 1083.8 156.9 1092.5 165.9 M942.2 165.9 950.9 174.9 956 176.9 M956 176.9 963.5 178.9 972.2 187.9 M972.3 165.9 981 174.9 986.1 176.9 M986.1 176.9 993.6 178.9 1002.3 187.9 M1002.4 165.9 1011.1 174.9 1016.2 176.9 M1016.2 176.9 1023.7 178.9 1032.4 187.9 M1032.4 165.9 1041.1 174.9 1046.2 176.9 M1046.2 176.9 1053.7 178.9 1062.4 187.9 M1062.5 165.9 1071.2 174.9 1076.3 176.9 M1076.3 176.9 1083.8 178.9 1092.5 187.9 M1092.6 165.9 1101.3 174.9 1106.4 176.9 M1106.4 176.9 1113.9 178.9 1122.6 187.9 M942.2 187.9 950.9 196.9 956 198.9 M956 198.9 963.5 200.9 972.2 209.9 M972.3 187.9 981 196.9 986.1 198.9 M986.1 198.9 993.6 200.9 1002.3 209.9 M1002.4 187.9 1011.1 196.9 1016.2 198.9 M1016.2 198.9 1023.7 200.9 1032.4 209.9 M1032.4 187.9 1041.1 196.9 1046.2 198.9 M1046.2 198.9 1053.7 200.9 1062.4 209.9 M1062.5 187.9 1071.2 196.9 1076.3 198.9 M1076.3 198.9 1083.8 200.9 1092.5 209.9 M1092.6 187.9 1101.3 196.9 1106.4 198.9 M1106.4 198.9 1113.9 200.9 1122.6 209.9 M1122.7 187.9 1131.4 196.9 1136.5 198.9 M1136.5 198.9 1144 200.9 1152.7 209.9 M942.2 209.9 950.9 218.9 956 220.9 M956 220.9 963.5 222.9 972.2 231.9 M972.3 209.9 981 218.9 986.1 220.9 M986.1 220.9 993.6 222.9 1002.3 231.9 M1002.4 209.9 1011.1 218.9 1016.2 220.9 M1016.2 220.9 1023.7 222.9 1032.4 231.9 M1032.4 209.9 1041.1 218.9 1046.2 220.9 M1046.2 220.9 1053.7 222.9 1062.4 231.9 M1062.5 209.9 1071.2 218.9 1076.3 220.9 M1076.3 220.9 1083.8 222.9 1092.5 231.9 M1092.6 209.9 1101.3 218.9 1106.4 220.9 M1106.4 220.9 1113.9 222.9 1122.6 231.9 M1122.7 209.9 1131.4 218.9 1136.5 220.9 M1136.5 220.9 1144 222.9 1152.7 231.9 M1152.8 209.9 1161.5 218.9 1166.6 220.9 M1166.6 220.9 1174.1 222.9 1182.8 231.9 M942.2 232 950.9 241 956 243 M956 243 963.5 245 972.2 254 M972.3 232 981 241 986.1 243 M986.1 243 993.6 245 1002.3 254 M1002.4 232 1011.1 241 1016.2 243 M1016.2 243 1023.7 245 1032.4 254 M1032.4 232 1041.1 241 1046.2 243 M1046.2 243 1053.7 245 1062.4 254 M1062.5 232 1071.2 241 1076.3 243 M1076.3 243 1083.8 245 1092.5 254 M1092.6 232 1101.3 241 1106.4 243 M1106.4 243 1113.9 245 1122.6 254 M1122.7 232 1131.4 241 1136.5 243 M1136.5 243 1144 245 1152.7 254 M1152.8 232 1161.5 241 1166.6 243 M1166.6 243 1174.1 245 1182.8 254 M1182.8 232 1191.5 241 1196.6 243 M1196.6 243 1204.1 245 1212.8 254 M942.2 254 950.9 263 956 265 M956 265 963.5 267 972.2 276 M972.3 254 981 263 986.1 265 M986.1 265 993.6 267 1002.3 276 M1002.4 254 1011.1 263 1016.2 265 M1016.2 265 1023.7 267 1032.4 276 M1032.4 254 1041.1 263 1046.2 265 M1046.2 265 1053.7 267 1062.4 276 M1062.5 254 1071.2 263 1076.3 265 M1076.3 265 1083.8 267 1092.5 276 M1092.6 254 1101.3 263 1106.4 265 M1106.4 265 1113.9 267 1122.6 276 M1122.7 254 1131.4 263 1136.5 265 M1136.5 265 1144 267 1152.7 276 M1152.8 254 1161.5 263 1166.6 265 M1166.6 265 1174.1 267 1182.8 276 M1182.8 254 1191.5 263 1196.6 265 M1196.6 265 1204.1 267 1212.8 276 M1212.9 254 1221.6 263 1226.7 265 M1226.7 265 1234.2 267 1242.9 276 M942.2 276 952.6 286 960.8 288.4 972.2 298 M952.6 286 954.2 291.5 M956.6 283.4 960.8 288.4 M972.3 276 981 285 986.1 287 M1002.4 276 1012.8 286 1021 288.4 1032.4 298 M1012.8 286 1014.4 291.5 M1016.8 283.4 1021 288.4 M1032.4 276 1041.1 285 1046.2 287 M1062.5 276 1072.9 286 1081.1 288.4 1092.5 298 M1072.9 286 1074.5 291.5 M1076.9 283.4 1081.1 288.4 M1092.6 276 1101.3 285 1106.4 287 M1122.7 276 1133.1 286 1141.3 288.4 1152.7 298 M1133.1 286 1134.7 291.5 M1137.1 283.4 1141.3 288.4 M1152.8 276 1161.5 285 1166.6 287 M1182.8 276 1191.5 285 1196.6 287 M1212.9 276 1221.6 285 1226.7 287 M1243 276 1251.7 285 1256.8 287 M942.2 298 950.9 307 956 309 M956 309 963.5 311 972.2 320 M972.3 298 981 307 986.1 309 M986.1 309 993.6 311 1002.3 320 M1002.4 298 1011.1 307 1016.2 309 M1016.2 309 1023.7 311 1032.4 320 M1032.4 298 1041.1 307 1046.2 309 M1046.2 309 1053.7 311 1062.4 320 M1062.5 298 1071.2 307 1076.3 309 M1076.3 309 1083.8 311 1092.5 320 M1092.6 298 1101.3 307 1106.4 309 M1106.4 309 1113.9 311 1122.6 320 M1122.7 298 1131.4 307 1136.5 309 M1136.5 309 1144 311 1152.7 320 M1152.8 298 1161.5 307 1166.6 309 M1166.6 309 1174.1 311 1182.8 320 M1182.8 298 1191.5 307 1196.6 309 M1196.6 309 1204.1 311 1212.8 320 M1212.9 298 1221.6 307 1226.7 309 M1226.7 309 1234.2 311 1242.9 320 M1243 298 1251.7 307 1256.8 309 M1256.8 309 1264.3 311 1273 320 M1273.1 298 1281.8 307 1286.9 309 M1286.9 309 1294.4 311 1303.1 320 M942.2 320 950.9 329 956 331 M956 331 963.5 333 972.2 342 M972.3 320 981 329 986.1 331 M986.1 331 993.6 333 1002.3 342 M1002.4 320 1011.1 329 1016.2 331 M1016.2 331 1023.7 333 1032.4 342 M1032.4 320 1041.1 329 1046.2 331 M1046.2 331 1053.7 333 1062.4 342 M1062.5 320 1071.2 329 1076.3 331 M1076.3 331 1083.8 333 1092.5 342 M1092.6 320 1101.3 329 1106.4 331 M1106.4 331 1113.9 333 1122.6 342 M1122.7 320 1131.4 329 1136.5 331 M1136.5 331 1144 333 1152.7 342 M1152.8 320 1161.5 329 1166.6 331 M1166.6 331 1174.1 333 1182.8 342 M1182.8 320 1191.5 329 1196.6 331 M1196.6 331 1204.1 333 1212.8 342 M1212.9 320 1221.6 329 1226.7 331 M1226.7 331 1234.2 333 1242.9 342 M1243 320 1251.7 329 1256.8 331 M1256.8 331 1264.3 333 1273 342 M1273.1 320 1281.8 329 1286.9 331 M1286.9 331 1294.4 333 1303.1 342 M1303.2 320 1311.9 329 1317 331 M1317 331 1324.5 333 1333.2 342 M942.2 342.1 950.9 351.1 956 353.1 M956 353.1 963.5 355.1 972.2 364.1 M972.3 342.1 981 351.1 986.1 353.1 M986.1 353.1 993.6 355.1 1002.3 364.1 M1002.4 342.1 1011.1 351.1 1016.2 353.1 M1016.2 353.1 1023.7 355.1 1032.4 364.1 M1032.4 342.1 1041.1 351.1 1046.2 353.1 M1046.2 353.1 1053.7 355.1 1062.4 364.1 M1062.5 342.1 1071.2 351.1 1076.3 353.1 M1076.3 353.1 1083.8 355.1 1092.5 364.1 M1092.6 342.1 1101.3 351.1 1106.4 353.1 M1106.4 353.1 1113.9 355.1 1122.6 364.1 M1122.7 342.1 1131.4 351.1 1136.5 353.1 M1136.5 353.1 1144 355.1 1152.7 364.1 M1152.8 342.1 1161.5 351.1 1166.6 353.1 M1166.6 353.1 1174.1 355.1 1182.8 364.1 M1182.8 342.1 1191.5 351.1 1196.6 353.1 M1196.6 353.1 1204.1 355.1 1212.8 364.1 M1212.9 342.1 1221.6 351.1 1226.7 353.1 M1226.7 353.1 1234.2 355.1 1242.9 364.1 M1243 342.1 1251.7 351.1 1256.8 353.1 M1256.8 353.1 1264.3 355.1 1273 364.1 M1273.1 342.1 1281.8 351.1 1286.9 353.1 M1286.9 353.1 1294.4 355.1 1303.1 364.1 M1303.2 342.1 1311.9 351.1 1317 353.1 M1317 353.1 1324.5 355.1 1333.2 364.1 M1333.2 342.1 1341.9 351.1 1347 353.1 M1347 353.1 1354.5 355.1 1363.2 364.1 M942.2 364.1 950.9 373.1 956 375.1 M956 375.1 963.5 377.1 972.2 386.1 M972.3 364.1 981 373.1 986.1 375.1 M986.1 375.1 993.6 377.1 1002.3 386.1 M1002.4 364.1 1011.1 373.1 1016.2 375.1 M1016.2 375.1 1023.7 377.1 1032.4 386.1 M1032.4 364.1 1041.1 373.1 1046.2 375.1 M1046.2 375.1 1053.7 377.1 1062.4 386.1 M1062.5 364.1 1071.2 373.1 1076.3 375.1 M1076.3 375.1 1083.8 377.1 1092.5 386.1 M1092.6 364.1 1101.3 373.1 1106.4 375.1 M1106.4 375.1 1113.9 377.1 1122.6 386.1 M1122.7 364.1 1131.4 373.1 1136.5 375.1 M1136.5 375.1 1144 377.1 1152.7 386.1 M1152.8 364.1 1161.5 373.1 1166.6 375.1 M1166.6 375.1 1174.1 377.1 1182.8 386.1 M1182.8 364.1 1191.5 373.1 1196.6 375.1 M1196.6 375.1 1204.1 377.1 1212.8 386.1 M1212.9 364.1 1221.6 373.1 1226.7 375.1 M1226.7 375.1 1234.2 377.1 1242.9 386.1 M1243 364.1 1251.7 373.1 1256.8 375.1 M1256.8 375.1 1264.3 377.1 1273 386.1 M1273.1 364.1 1281.8 373.1 1286.9 375.1 M1286.9 375.1 1294.4 377.1 1303.1 386.1 M1303.2 364.1 1311.9 373.1 1317 375.1 M1317 375.1 1324.5 377.1 1333.2 386.1 M1333.2 364.1 1341.9 373.1 1347 375.1 M1347 375.1 1354.5 377.1 1363.2 386.1 M1363.3 364.1 1372 373.1 1377.1 375.1 M1377.1 375.1 1384.6 377.1 1393.3 386.1 M942.2 386.1 950.9 395.1 956 397.1 M956 397.1 963.5 399.1 972.2 408.1 M972.3 386.1 981 395.1 986.1 397.1 M986.1 397.1 993.6 399.1 1002.3 408.1 M1002.4 386.1 1011.1 395.1 1016.2 397.1 M1016.2 397.1 1023.7 399.1 1032.4 408.1 M1032.4 386.1 1041.1 395.1 1046.2 397.1 M1046.2 397.1 1053.7 399.1 1062.4 408.1 M1062.5 386.1 1071.2 395.1 1076.3 397.1 M1076.3 397.1 1083.8 399.1 1092.5 408.1 M1092.6 386.1 1101.3 395.1 1106.4 397.1 M1106.4 397.1 1113.9 399.1 1122.6 408.1 M1122.7 386.1 1131.4 395.1 1136.5 397.1 M1136.5 397.1 1144 399.1 1152.7 408.1 M1152.8 386.1 1161.5 395.1 1166.6 397.1 M1166.6 397.1 1174.1 399.1 1182.8 408.1 M1182.8 386.1 1191.5 395.1 1196.6 397.1 M1196.6 397.1 1204.1 399.1 1212.8 408.1 M1212.9 386.1 1221.6 395.1 1226.7 397.1 M1226.7 397.1 1234.2 399.1 1242.9 408.1 M1243 386.1 1251.7 395.1 1256.8 397.1 M1256.8 397.1 1264.3 399.1 1273 408.1 M1273.1 386.1 1281.8 395.1 1286.9 397.1 M1286.9 397.1 1294.4 399.1 1303.1 408.1 M1303.2 386.1 1311.9 395.1 1317 397.1 M1317 397.1 1324.5 399.1 1333.2 408.1 M1333.2 386.1 1341.9 395.1 1347 397.1 M1347 397.1 1354.5 399.1 1363.2 408.1 M1363.3 386.1 1372 395.1 1377.1 397.1 M1377.1 397.1 1384.6 399.1 1393.3 408.1 M1393.4 386.1 1402.1 395.1 1407.2 397.1 M1407.2 397.1 1414.7 399.1 1423.4 408.1 M942.2 408.1 950.9 417.1 956 419.1 M956 419.1 963.5 421.1 972.2 430.1 M972.3 408.1 981 417.1 986.1 419.1 M986.1 419.1 993.6 421.1 1002.3 430.1 M1002.4 408.1 1011.1 417.1 1016.2 419.1 M1016.2 419.1 1023.7 421.1 1032.4 430.1 M1032.4 408.1 1041.1 417.1 1046.2 419.1 M1046.2 419.1 1053.7 421.1 1062.4 430.1 M1062.5 408.1 1071.2 417.1 1076.3 419.1 M1076.3 419.1 1083.8 421.1 1092.5 430.1 M1092.6 408.1 1101.3 417.1 1106.4 419.1 M1106.4 419.1 1113.9 421.1 1122.6 430.1 M1122.7 408.1 1131.4 417.1 1136.5 419.1 M1136.5 419.1 1144 421.1 1152.7 430.1 M1152.8 408.1 1161.5 417.1 1166.6 419.1 M1166.6 419.1 1174.1 421.1 1182.8 430.1 M1182.8 408.1 1191.5 417.1 1196.6 419.1 M1196.6 419.1 1204.1 421.1 1212.8 430.1 M1212.9 408.1 1221.6 417.1 1226.7 419.1 M1226.7 419.1 1234.2 421.1 1242.9 430.1 M1243 408.1 1251.7 417.1 1256.8 419.1 M1256.8 419.1 1264.3 421.1 1273 430.1 M1273.1 408.1 1281.8 417.1 1286.9 419.1 M1286.9 419.1 1294.4 421.1 1303.1 430.1 M1303.2 408.1 1311.9 417.1 1317 419.1 M1317 419.1 1324.5 421.1 1333.2 430.1 M1333.2 408.1 1341.9 417.1 1347 419.1 M1347 419.1 1354.5 421.1 1363.2 430.1 M1363.3 408.1 1372 417.1 1377.1 419.1 M1377.1 419.1 1384.6 421.1 1393.3 430.1 M1393.4 408.1 1402.1 417.1 1407.2 419.1 M1407.2 419.1 1414.7 421.1 1423.4 430.1 M1423.5 408.1 1432.2 417.1 1437.3 419.1 M1437.3 419.1 1444.8 421.1 1453.5 430.1 M942.2 430.1 950.9 439.1 956 441.1 M956 441.1 963.5 443.1 972.2 452.1 M972.3 430.1 981 439.1 986.1 441.1 M986.1 441.1 993.6 443.1 1002.3 452.1 M1002.4 430.1 1011.1 439.1 1016.2 441.1 M1016.2 441.1 1023.7 443.1 1032.4 452.1 M1032.4 430.1 1041.1 439.1 1046.2 441.1 M1046.2 441.1 1053.7 443.1 1062.4 452.1 M1062.5 430.1 1071.2 439.1 1076.3 441.1 M1076.3 441.1 1083.8 443.1 1092.5 452.1 M1092.6 430.1 1101.3 439.1 1106.4 441.1 M1106.4 441.1 1113.9 443.1 1122.6 452.1 M1122.7 430.1 1131.4 439.1 1136.5 441.1 M1136.5 441.1 1144 443.1 1152.7 452.1 M1152.8 430.1 1161.5 439.1 1166.6 441.1 M1166.6 441.1 1174.1 443.1 1182.8 452.1 M1182.8 430.1 1191.5 439.1 1196.6 441.1 M1196.6 441.1 1204.1 443.1 1212.8 452.1 M1212.9 430.1 1221.6 439.1 1226.7 441.1 M1226.7 441.1 1234.2 443.1 1242.9 452.1 M1243 430.1 1251.7 439.1 1256.8 441.1 M1256.8 441.1 1264.3 443.1 1273 452.1 M1273.1 430.1 1281.8 439.1 1286.9 441.1 M1286.9 441.1 1294.4 443.1 1303.1 452.1 M1303.2 430.1 1311.9 439.1 1317 441.1 M1317 441.1 1324.5 443.1 1333.2 452.1 M1333.2 430.1 1341.9 439.1 1347 441.1 M1347 441.1 1354.5 443.1 1363.2 452.1 M1363.3 430.1 1372 439.1 1377.1 441.1 M1377.1 441.1 1384.6 443.1 1393.3 452.1 M1393.4 430.1 1402.1 439.1 1407.2 441.1 M1407.2 441.1 1414.7 443.1 1423.4 452.1 M1423.5 430.1 1432.2 439.1 1437.3 441.1 M1437.3 441.1 1444.8 443.1 1453.5 452.1 M1453.6 430.1 1462.3 439.1 1467.4 441.1 M1467.4 441.1 1474.9 443.1 1483.6 452.1 M942.2 452.2 950.9 461.2 956 463.2 M956 463.2 963.5 465.2 972.2 474.2 M972.3 452.2 981 461.2 986.1 463.2 M986.1 463.2 993.6 465.2 1002.3 474.2 M1002.4 452.2 1011.1 461.2 1016.2 463.2 M1016.2 463.2 1023.7 465.2 1032.4 474.2 M1032.4 452.2 1041.1 461.2 1046.2 463.2 M1046.2 463.2 1053.7 465.2 1062.4 474.2 M1062.5 452.2 1071.2 461.2 1076.3 463.2 M1076.3 463.2 1083.8 465.2 1092.5 474.2 M1092.6 452.2 1101.3 461.2 1106.4 463.2 M1106.4 463.2 1113.9 465.2 1122.6 474.2 M1122.7 452.2 1131.4 461.2 1136.5 463.2 M1136.5 463.2 1144 465.2 1152.7 474.2 M1152.8 452.2 1161.5 461.2 1166.6 463.2 M1166.6 463.2 1174.1 465.2 1182.8 474.2 M1182.8 452.2 1191.5 461.2 1196.6 463.2 M1196.6 463.2 1204.1 465.2 1212.8 474.2 M1212.9 452.2 1221.6 461.2 1226.7 463.2 M1226.7 463.2 1234.2 465.2 1242.9 474.2 M1243 452.2 1251.7 461.2 1256.8 463.2 M1256.8 463.2 1264.3 465.2 1273 474.2 M1273.1 452.2 1281.8 461.2 1286.9 463.2 M1286.9 463.2 1294.4 465.2 1303.1 474.2 M1303.2 452.2 1311.9 461.2 1317 463.2 M1317 463.2 1324.5 465.2 1333.2 474.2 M1333.2 452.2 1341.9 461.2 1347 463.2 M1347 463.2 1354.5 465.2 1363.2 474.2 M1363.3 452.2 1372 461.2 1377.1 463.2 M1377.1 463.2 1384.6 465.2 1393.3 474.2 M1393.4 452.2 1402.1 461.2 1407.2 463.2 M1407.2 463.2 1414.7 465.2 1423.4 474.2 M1423.5 452.2 1432.2 461.2 1437.3 463.2 M1437.3 463.2 1444.8 465.2 1453.5 474.2 M1453.6 452.2 1462.3 461.2 1467.4 463.2 M1467.4 463.2 1474.9 465.2 1483.6 474.2 M1483.6 452.2 1492.3 461.2 1497.4 463.2 M1497.4 463.2 1504.9 465.2 1513.6 474.2 M942.2 474.2 952.6 484.2 960.8 486.6 972.2 496.2 M952.6 484.2 954.2 489.7 M956.6 481.6 960.8 486.6 M972.3 474.2 981 483.2 986.1 485.2 M1002.4 474.2 1011.1 483.2 1016.2 485.2 M1032.4 474.2 1041.1 483.2 1046.2 485.2 M1062.5 474.2 1072.9 484.2 1081.1 486.6 1092.5 496.2 M1072.9 484.2 1074.5 489.7 M1076.9 481.6 1081.1 486.6 M1092.6 474.2 1101.3 483.2 1106.4 485.2 M1122.7 474.2 1131.4 483.2 1136.5 485.2 M1152.8 474.2 1161.5 483.2 1166.6 485.2 M1182.8 474.2 1193.2 484.2 1201.4 486.6 1212.8 496.2 M1193.2 484.2 1194.8 489.7 M1197.2 481.6 1201.4 486.6 M1212.9 474.2 1221.6 483.2 1226.7 485.2 M1243 474.2 1251.7 483.2 1256.8 485.2 M1273.1 474.2 1281.8 483.2 1286.9 485.2 M1303.2 474.2 1313.6 484.2 1321.8 486.6 1333.2 496.2 M1313.6 484.2 1315.2 489.7 M1317.6 481.6 1321.8 486.6 M1333.2 474.2 1341.9 483.2 1347 485.2 M1363.3 474.2 1372 483.2 1377.1 485.2 M1393.4 474.2 1402.1 483.2 1407.2 485.2 M1423.5 474.2 1433.9 484.2 1442.1 486.6 1453.5 496.2 M1433.9 484.2 1435.5 489.7 M1437.9 481.6 1442.1 486.6 M1453.6 474.2 1462.3 483.2 1467.4 485.2 M1483.6 474.2 1492.3 483.2 1497.4 485.2 M1513.7 474.2 1522.4 483.2 1527.5 485.2 M942.2 496.2 950.9 505.2 956 507.2 M956 507.2 963.5 509.2 972.2 518.2 M972.3 496.2 981 505.2 986.1 507.2 M986.1 507.2 993.6 509.2 1002.3 518.2 M1002.4 496.2 1011.1 505.2 1016.2 507.2 M1016.2 507.2 1023.7 509.2 1032.4 518.2 M1032.4 496.2 1041.1 505.2 1046.2 507.2 M1046.2 507.2 1053.7 509.2 1062.4 518.2 M1062.5 496.2 1071.2 505.2 1076.3 507.2 M1076.3 507.2 1083.8 509.2 1092.5 518.2 M1092.6 496.2 1101.3 505.2 1106.4 507.2 M1106.4 507.2 1113.9 509.2 1122.6 518.2 M1122.7 496.2 1131.4 505.2 1136.5 507.2 M1136.5 507.2 1144 509.2 1152.7 518.2 M1152.8 496.2 1161.5 505.2 1166.6 507.2 M1166.6 507.2 1174.1 509.2 1182.8 518.2 M1182.8 496.2 1191.5 505.2 1196.6 507.2 M1196.6 507.2 1204.1 509.2 1212.8 518.2 M1212.9 496.2 1221.6 505.2 1226.7 507.2 M1226.7 507.2 1234.2 509.2 1242.9 518.2 M1243 496.2 1251.7 505.2 1256.8 507.2 M1256.8 507.2 1264.3 509.2 1273 518.2 M1273.1 496.2 1281.8 505.2 1286.9 507.2 M1286.9 507.2 1294.4 509.2 1303.1 518.2 M1303.2 496.2 1311.9 505.2 1317 507.2 M1317 507.2 1324.5 509.2 1333.2 518.2 M1333.2 496.2 1341.9 505.2 1347 507.2 M1347 507.2 1354.5 509.2 1363.2 518.2 M1363.3 496.2 1372 505.2 1377.1 507.2 M1377.1 507.2 1384.6 509.2 1393.3 518.2 M1393.4 496.2 1402.1 505.2 1407.2 507.2 M1407.2 507.2 1414.7 509.2 1423.4 518.2 M1423.5 496.2 1432.2 505.2 1437.3 507.2 M1437.3 507.2 1444.8 509.2 1453.5 518.2 M1453.6 496.2 1462.3 505.2 1467.4 507.2 M1467.4 507.2 1474.9 509.2 1483.6 518.2 M1483.6 496.2 1492.3 505.2 1497.4 507.2 M1497.4 507.2 1504.9 509.2 1513.6 518.2 M1513.7 496.2 1522.4 505.2 1527.5 507.2 M1527.5 507.2 1535 509.2 1543.7 518.2 M1543.8 496.2 1552.5 505.2 1557.6 507.2 M1557.6 507.2 1565.1 509.2 1573.8 518.2 M942.2 518.2 950.9 527.2 956 529.2 M956 529.2 963.5 531.2 972.2 540.2 M972.3 518.2 981 527.2 986.1 529.2 M986.1 529.2 993.6 531.2 1002.3 540.2 M1002.4 518.2 1011.1 527.2 1016.2 529.2 M1016.2 529.2 1023.7 531.2 1032.4 540.2 M1032.4 518.2 1041.1 527.2 1046.2 529.2 M1046.2 529.2 1053.7 531.2 1062.4 540.2 M1062.5 518.2 1071.2 527.2 1076.3 529.2 M1076.3 529.2 1083.8 531.2 1092.5 540.2 M1092.6 518.2 1101.3 527.2 1106.4 529.2 M1106.4 529.2 1113.9 531.2 1122.6 540.2 M1122.7 518.2 1131.4 527.2 1136.5 529.2 M1136.5 529.2 1144 531.2 1152.7 540.2 M1152.8 518.2 1161.5 527.2 1166.6 529.2 M1166.6 529.2 1174.1 531.2 1182.8 540.2 M1182.8 518.2 1191.5 527.2 1196.6 529.2 M1196.6 529.2 1204.1 531.2 1212.8 540.2 M1212.9 518.2 1221.6 527.2 1226.7 529.2 M1226.7 529.2 1234.2 531.2 1242.9 540.2 M1243 518.2 1251.7 527.2 1256.8 529.2 M1256.8 529.2 1264.3 531.2 1273 540.2 M1273.1 518.2 1281.8 527.2 1286.9 529.2 M1286.9 529.2 1294.4 531.2 1303.1 540.2 M1303.2 518.2 1311.9 527.2 1317 529.2 M1317 529.2 1324.5 531.2 1333.2 540.2 M1333.2 518.2 1341.9 527.2 1347 529.2 M1347 529.2 1354.5 531.2 1363.2 540.2 M1363.3 518.2 1372 527.2 1377.1 529.2 M1377.1 529.2 1384.6 531.2 1393.3 540.2 M1393.4 518.2 1402.1 527.2 1407.2 529.2 M1407.2 529.2 1414.7 531.2 1423.4 540.2 M1423.5 518.2 1432.2 527.2 1437.3 529.2 M1437.3 529.2 1444.8 531.2 1453.5 540.2 M1453.6 518.2 1462.3 527.2 1467.4 529.2 M1467.4 529.2 1474.9 531.2 1483.6 540.2 M1483.6 518.2 1492.3 527.2 1497.4 529.2 M1497.4 529.2 1504.9 531.2 1513.6 540.2 M1513.7 518.2 1522.4 527.2 1527.5 529.2 M1527.5 529.2 1535 531.2 1543.7 540.2 M1543.8 518.2 1552.5 527.2 1557.6 529.2 M1557.6 529.2 1565.1 531.2 1573.8 540.2 M1573.9 518.2 1582.6 527.2 1587.7 529.2 M1587.7 529.2 1595.2 531.2 1603.9 540.2 M942.2 540.2 952.6 550.2 960.8 552.6 972.2 562.2 M952.6 550.2 954.2 555.7 M956.6 547.6 960.8 552.6 M972.3 540.2 982.7 550.2 990.9 552.6 1002.3 562.2 M982.7 550.2 984.3 555.7 M986.7 547.6 990.9 552.6 M1002.4 540.2 1011.1 549.2 1016.2 551.2 M1032.4 540.2 1041.1 549.2 1046.2 551.2 M1062.5 540.2 1072.9 550.2 1081.1 552.6 1092.5 562.2 M1072.9 550.2 1074.5 555.7 M1076.9 547.6 1081.1 552.6 M1092.6 540.2 1103 550.2 1111.2 552.6 1122.6 562.2 M1103 550.2 1104.6 555.7 M1107 547.6 1111.2 552.6 M1122.7 540.2 1131.4 549.2 1136.5 551.2 M1152.8 540.2 1161.5 549.2 1166.6 551.2 M1182.8 540.2 1193.2 550.2 1201.4 552.6 1212.8 562.2 M1193.2 550.2 1194.8 555.7 M1197.2 547.6 1201.4 552.6 M1212.9 540.2 1223.3 550.2 1231.5 552.6 1242.9 562.2 M1223.3 550.2 1224.9 555.7 M1227.3 547.6 1231.5 552.6 M1243 540.2 1251.7 549.2 1256.8 551.2 M1273.1 540.2 1281.8 549.2 1286.9 551.2 M1303.2 540.2 1313.6 550.2 1321.8 552.6 1333.2 562.2 M1313.6 550.2 1315.2 555.7 M1317.6 547.6 1321.8 552.6 M1333.2 540.2 1343.6 550.2 1351.8 552.6 1363.2 562.2 M1343.6 550.2 1345.2 555.7 M1347.6 547.6 1351.8 552.6 M1363.3 540.2 1372 549.2 1377.1 551.2 M1393.4 540.2 1402.1 549.2 1407.2 551.2 M1423.5 540.2 1433.9 550.2 1442.1 552.6 1453.5 562.2 M1433.9 550.2 1435.5 555.7 M1437.9 547.6 1442.1 552.6 M1453.6 540.2 1464 550.2 1472.2 552.6 1483.6 562.2 M1464 550.2 1465.6 555.7 M1468 547.6 1472.2 552.6 M1483.6 540.2 1492.3 549.2 1497.4 551.2 M1513.7 540.2 1522.4 549.2 1527.5 551.2 M1543.8 540.2 1554.2 550.2 1562.4 552.6 1573.8 562.2 M1554.2 550.2 1555.8 555.7 M1558.2 547.6 1562.4 552.6 M1573.9 540.2 1584.3 550.2 1592.5 552.6 1603.9 562.2 M1584.3 550.2 1585.9 555.7 M1588.3 547.6 1592.5 552.6 M1604 540.2 1612.7 549.2 1617.8 551.2 M942.2 562.3 950.9 571.3 956 573.3 M956 573.3 963.5 575.3 972.2 584.3 M972.3 562.3 981 571.3 986.1 573.3 M986.1 573.3 993.6 575.3 1002.3 584.3 M1002.4 562.3 1011.1 571.3 1016.2 573.3 M1016.2 573.3 1023.7 575.3 1032.4 584.3 M1032.4 562.3 1041.1 571.3 1046.2 573.3 M1046.2 573.3 1053.7 575.3 1062.4 584.3 M1062.5 562.3 1071.2 571.3 1076.3 573.3 M1076.3 573.3 1083.8 575.3 1092.5 584.3 M1092.6 562.3 1101.3 571.3 1106.4 573.3 M1106.4 573.3 1113.9 575.3 1122.6 584.3 M1122.7 562.3 1131.4 571.3 1136.5 573.3 M1136.5 573.3 1144 575.3 1152.7 584.3 M1152.8 562.3 1161.5 571.3 1166.6 573.3 M1166.6 573.3 1174.1 575.3 1182.8 584.3 M1182.8 562.3 1191.5 571.3 1196.6 573.3 M1196.6 573.3 1204.1 575.3 1212.8 584.3 M1212.9 562.3 1221.6 571.3 1226.7 573.3 M1226.7 573.3 1234.2 575.3 1242.9 584.3 M1243 562.3 1251.7 571.3 1256.8 573.3 M1256.8 573.3 1264.3 575.3 1273 584.3 M1273.1 562.3 1281.8 571.3 1286.9 573.3 M1286.9 573.3 1294.4 575.3 1303.1 584.3 M1303.2 562.3 1311.9 571.3 1317 573.3 M1317 573.3 1324.5 575.3 1333.2 584.3 M1333.2 562.3 1341.9 571.3 1347 573.3 M1347 573.3 1354.5 575.3 1363.2 584.3 M1363.3 562.3 1372 571.3 1377.1 573.3 M1377.1 573.3 1384.6 575.3 1393.3 584.3 M1393.4 562.3 1402.1 571.3 1407.2 573.3 M1407.2 573.3 1414.7 575.3 1423.4 584.3 M1423.5 562.3 1432.2 571.3 1437.3 573.3 M1437.3 573.3 1444.8 575.3 1453.5 584.3 M1453.6 562.3 1462.3 571.3 1467.4 573.3 M1467.4 573.3 1474.9 575.3 1483.6 584.3 M1483.6 562.3 1492.3 571.3 1497.4 573.3 M1497.4 573.3 1504.9 575.3 1513.6 584.3 M1513.7 562.3 1522.4 571.3 1527.5 573.3 M1527.5 573.3 1535 575.3 1543.7 584.3 M1543.8 562.3 1552.5 571.3 1557.6 573.3 M1557.6 573.3 1565.1 575.3 1573.8 584.3 M1573.9 562.3 1582.6 571.3 1587.7 573.3 M1587.7 573.3 1595.2 575.3 1603.9 584.3 M1604 562.3 1612.7 571.3 1617.8 573.3 M1617.8 573.3 1625.3 575.3 1634 584.3 M1634 562.3 1642.7 571.3 1647.8 573.3 M1647.8 573.3 1655.3 575.3 1664 584.3 M942.2 584.3 952.6 596.1 953.7 600.6 955.1 605.6 M972.3 584.3 982.7 596.1 983.8 600.6 985.2 605.6 M1002.4 584.3 1012.8 596.1 1013.9 600.6 1015.3 605.6 M1032.4 584.3 1042.8 596.1 1043.9 600.6 1045.3 605.6 M1062.5 584.3 1072.9 596.1 1074 600.6 1075.4 605.6 M1092.6 584.3 1103 596.1 1104.1 600.6 1105.5 605.6 M1122.7 584.3 1133.1 596.1 1134.2 600.6 1135.6 605.6 M1152.8 584.3 1163.2 596.1 1164.3 600.6 1165.7 605.6 M1182.8 584.3 1193.2 596.1 1194.3 600.6 1195.7 605.6 M1212.9 584.3 1223.3 596.1 1224.4 600.6 1225.8 605.6 M1243 584.3 1253.4 596.1 1254.5 600.6 1255.9 605.6 M1273.1 584.3 1283.5 596.1 1284.6 600.6 1286 605.6 M1303.2 584.3 1313.6 596.1 1314.7 600.6 1316.1 605.6 M1333.2 584.3 1343.6 596.1 1344.7 600.6 1346.1 605.6 M1363.3 584.3 1373.7 596.1 1374.8 600.6 1376.2 605.6 M1393.4 584.3 1403.8 596.1 1404.9 600.6 1406.3 605.6 M1423.5 584.3 1433.9 596.1 1435 600.6 1436.4 605.6 M1453.6 584.3 1464 596.1 1465.1 600.6 1466.5 605.6 M1483.6 584.3 1494 596.1 1495.1 600.6 1496.5 605.6 M1513.7 584.3 1524.1 596.1 1525.2 600.6 1526.6 605.6 M1543.8 584.3 1554.2 596.1 1555.3 600.6 1556.7 605.6 M1573.9 584.3 1584.3 596.1 1585.4 600.6 1586.8 605.6 M1604 584.3 1614.4 596.1 1615.5 600.6 1616.9 605.6 M1634 584.3 1644.4 596.1 1645.5 600.6 1646.9 605.6 M1664.1 584.3 1674.5 596.1 1675.6 600.6 1677 605.6" fill="none" stroke="rgb(255,140,0)" stroke-opacity="0.75" stroke-width="2.0" stroke-linejoin="round" stroke-linecap="round"/>
<path d="M941 45 V596.8 H1693" fill="none" stroke="#737373" stroke-width="1.9"/>
<path d="M956 596.8 v-7.5" stroke="#737373" stroke-width="1.2"/>
<path d="M1106.4 596.8 v-7.5" stroke="#737373" stroke-width="1.2"/>
<path d="M1256.8 596.8 v-7.5" stroke="#737373" stroke-width="1.2"/>
<path d="M1407.2 596.8 v-7.5" stroke="#737373" stroke-width="1.2"/>
<path d="M1557.6 596.8 v-7.5" stroke="#737373" stroke-width="1.2"/>
<path d="M956 66.8 L956 287 M956 287 L956 485.2 M956 485.2 L956 551.2 M956 551.2 L956 595.3 M956 551.2 L1016.2 595.3 M956 485.2 L1046.2 551.2 M1046.2 551.2 L1046.2 595.3 M956 287 L1226.7 485.2 M1226.7 485.2 L1226.7 551.2 M1226.7 551.2 L1226.7 595.3 M1226.7 551.2 L1286.9 595.3 M956 66.8 L1256.8 287 M1256.8 287 L1256.8 485.2 M1256.8 485.2 L1256.8 551.2 M1256.8 551.2 L1256.8 595.3" fill="none" stroke="rgb(0,0,255)" stroke-opacity="0.75" stroke-width="1.7" stroke-linejoin="round" stroke-linecap="butt"/>
<path d="M956 22 V49.5" stroke="rgb(0,0,255)" stroke-width="1.6"/>
<path d="M956 61.5 L947 38 L956 45.5 L965 38 Z" fill="rgb(0,0,255)"/>
<path d="M1407.2 704.5 V738" stroke="#008000" stroke-width="1.05"/>
<path d="M1407.2 692.5 L1397.7 717 L1407.2 710 L1416.7 717 Z" fill="#008000"/>
<text transform="translate(44.7 44.7) scale(0.947 1)" font-family="Liberation Sans, Arial, sans-serif" font-size="66">A</text>
<text x="893" y="45.7" font-family="Liberation Sans, Arial, sans-serif" font-size="66">B</text>
<text x="272.8" y="48.3" font-family="Liberation Sans, Arial, sans-serif" font-size="36.5" font-style="italic">X</text>
<text x="296.5" y="55.8" font-family="Liberation Sans, Arial, sans-serif" font-size="24" font-style="italic">1</text>
<text transform="translate(318.3 48.6) scale(1.10 0.82)" font-family="Liberation Sans, Arial, sans-serif" font-size="36.5" stroke="#000" stroke-width="0.7" stroke-linejoin="round">=</text>
<text x="348.8" y="48.3" font-family="Liberation Sans, Arial, sans-serif" font-size="36.5" word-spacing="1.1">{1, 2, 3, 4}</text>
<text x="272.5" y="94" font-family="Liberation Sans, Arial, sans-serif" font-size="36.5" font-style="italic">S</text>
<text x="296.5" y="101.5" font-family="Liberation Sans, Arial, sans-serif" font-size="24" font-style="italic">1</text>
<text transform="translate(318.7 94.3) scale(1.10 0.82)" font-family="Liberation Sans, Arial, sans-serif" font-size="36.5" stroke="#000" stroke-width="0.7" stroke-linejoin="round">=</text>
<text x="349.6" y="94" font-family="Liberation Sans, Arial, sans-serif" font-size="36.5" letter-spacing="0.07">[{3,4}, {2,4}, {2,3}, {1,2}]</text>
<text x="270.6" y="139.1" font-family="Liberation Sans, Arial, sans-serif" font-size="36.5" letter-spacing="0.1">Solution: [{2,4}, {1,3}]</text>
<text x="1118.1" y="48.3" font-family="Liberation Sans, Arial, sans-serif" font-size="36.5" font-style="italic">X</text>
<text x="1141.8" y="55.8" font-family="Liberation Sans, Arial, sans-serif" font-size="24" font-style="italic">2</text>
<text transform="translate(1163.6 48.6) scale(1.10 0.82)" font-family="Liberation Sans, Arial, sans-serif" font-size="36.5" stroke="#000" stroke-width="0.7" stroke-linejoin="round">=</text>
<text x="1194.1" y="48.3" font-family="Liberation Sans, Arial, sans-serif" font-size="36.5" word-spacing="1.1">{1, 2, 3, 4}</text>
<text x="1117.8" y="94" font-family="Liberation Sans, Arial, sans-serif" font-size="36.5" font-style="italic">S</text>
<text x="1141.8" y="101.5" font-family="Liberation Sans, Arial, sans-serif" font-size="24" font-style="italic">2</text>
<text transform="translate(1164 94.3) scale(1.10 0.82)" font-family="Liberation Sans, Arial, sans-serif" font-size="36.5" stroke="#000" stroke-width="0.7" stroke-linejoin="round">=</text>
<text x="1194.9" y="94" font-family="Liberation Sans, Arial, sans-serif" font-size="36.5" letter-spacing="0.07">[{3}, {3,4}, {1,4}, {1,3}]</text>
<text x="1115.9" y="139.1" font-family="Liberation Sans, Arial, sans-serif" font-size="36.5" letter-spacing="0.1">Solution: None</text>
<text transform="translate(79.6 193.4) scale(1 1.02)" font-family="DejaVu Sans, sans-serif" font-size="32" text-anchor="end">1010</text>
<text transform="translate(79.6 366.1) scale(1 1.02)" font-family="DejaVu Sans, sans-serif" font-size="32" text-anchor="end">0110</text>
<text transform="translate(79.6 494.6) scale(1 1.02)" font-family="DejaVu Sans, sans-serif" font-size="32" text-anchor="end">0101</text>
<text transform="translate(79.6 578.7) scale(1 1.02)" font-family="DejaVu Sans, sans-serif" font-size="32" text-anchor="end">0011</text>
<text transform="translate(929 194.1) scale(1 1.02)" font-family="DejaVu Sans, sans-serif" font-size="32" text-anchor="end">1010</text>
<text transform="translate(929 401.4) scale(1 1.02)" font-family="DejaVu Sans, sans-serif" font-size="32" text-anchor="end">1001</text>
<text transform="translate(929 532.4) scale(1 1.02)" font-family="DejaVu Sans, sans-serif" font-size="32" text-anchor="end">0011</text>
<text transform="translate(929 588.8) scale(1 1.02)" font-family="DejaVu Sans, sans-serif" font-size="32" text-anchor="end">0010</text>
<text transform="translate(119.8 687.5) rotate(-90)" font-family="DejaVu Sans, sans-serif" font-size="27.5">0000</text>
<text transform="translate(270.2 687.5) rotate(-90)" font-family="DejaVu Sans, sans-serif" font-size="27.5">0101</text>
<text transform="translate(420.6 687.5) rotate(-90)" font-family="DejaVu Sans, sans-serif" font-size="27.5">1010</text>
<text transform="translate(571 687.5) rotate(-90)" font-family="DejaVu Sans, sans-serif" font-size="27.5">1111</text>
<text transform="translate(967.7 688.3) rotate(-90)" font-family="DejaVu Sans, sans-serif" font-size="27.5">0000</text>
<text transform="translate(1118.1 688.3) rotate(-90)" font-family="DejaVu Sans, sans-serif" font-size="27.5">0101</text>
<text transform="translate(1268.5 688.3) rotate(-90)" font-family="DejaVu Sans, sans-serif" font-size="27.5">1010</text>
<text transform="translate(1418.9 688.3) rotate(-90)" font-family="DejaVu Sans, sans-serif" font-size="27.5">1111</text>
</svg>
</body></html>
